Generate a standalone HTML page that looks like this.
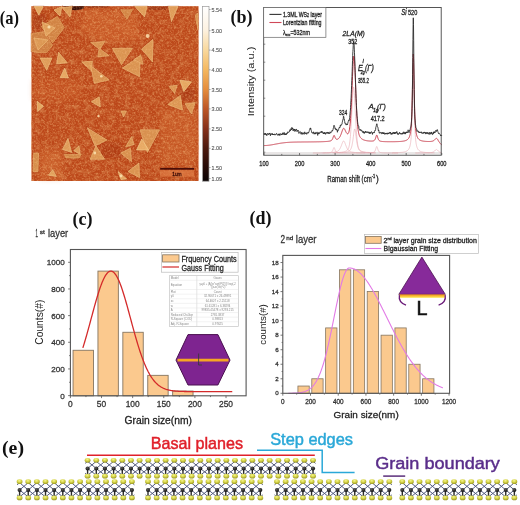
<!DOCTYPE html>
<html><head><meta charset="utf-8"><title>Figure</title>
<style>
html,body{margin:0;padding:0;background:#fff;}
body{width:520px;height:505px;overflow:hidden;}
svg{display:block;}
</style></head>
<body>
<svg width="520" height="505" viewBox="0 0 520 505">
<rect width="520" height="505" fill="#fff"/>
<defs>
<linearGradient id="cbar" x1="0" y1="0" x2="0" y2="1">
 <stop offset="0" stop-color="#ffffff"/>
 <stop offset="0.13" stop-color="#fdf2e2"/>
 <stop offset="0.25" stop-color="#f9d89c"/>
 <stop offset="0.36" stop-color="#f4b860"/>
 <stop offset="0.475" stop-color="#e48c3c"/>
 <stop offset="0.585" stop-color="#bc5626"/>
 <stop offset="0.70" stop-color="#84301a"/>
 <stop offset="0.81" stop-color="#4c1a0e"/>
 <stop offset="0.92" stop-color="#260a06"/>
 <stop offset="1" stop-color="#0a0303"/>
</linearGradient>
<linearGradient id="strip" x1="0" y1="0" x2="0" y2="1">
 <stop offset="0" stop-color="#f08a20"/>
 <stop offset="0.5" stop-color="#f8c030"/>
 <stop offset="1" stop-color="#fff070"/>
</linearGradient>
<filter id="nz" x="0" y="0" width="100%" height="100%">
 <feTurbulence type="fractalNoise" baseFrequency="0.55" numOctaves="2" seed="7" result="t"/>
 <feColorMatrix in="t" type="matrix" values="0 0 0 0 0.90  0 0 0 0 0.48  0 0 0 0 0.20  2.8 0 0 0 -1.25" result="c"/>
 <feGaussianBlur in="c" stdDeviation="0.3"/>
</filter>
<filter id="bl" x="-20%" y="-20%" width="140%" height="140%"><feGaussianBlur stdDeviation="2.5"/></filter>
<filter id="nz2" x="0" y="0" width="100%" height="100%">
 <feTurbulence type="fractalNoise" baseFrequency="0.2" numOctaves="3" seed="3" result="t"/>
 <feColorMatrix in="t" type="matrix" values="0 0 0 0 0.66  0 0 0 0 0.20  0 0 0 0 0.06  0 2.2 0 0 -0.95"/>
</filter>
<radialGradient id="sy" cx="0.45" cy="0.3" r="0.75">
 <stop offset="0" stop-color="#f6f690"/>
 <stop offset="0.45" stop-color="#d6d448"/>
 <stop offset="1" stop-color="#8c8a1c"/>
</radialGradient>
<radialGradient id="wd" cx="0.4" cy="0.35" r="0.7">
 <stop offset="0" stop-color="#5a5a5a"/>
 <stop offset="1" stop-color="#080808"/>
</radialGradient>
</defs>
<text x="-0.30" y="24.00" font-family="'Liberation Serif', 'Times New Roman', serif" font-size="17.8" fill="#111" text-anchor="start" font-weight="bold" font-style="normal" textLength="19.20" lengthAdjust="spacingAndGlyphs">(a)</text>
<rect x="31.5" y="6.2" width="167.0" height="174.8" fill="#bc481a"/>
<rect x="31.5" y="6.2" width="167.0" height="174.8" filter="url(#nz2)" opacity="0.8"/>
<path d="M85.00,10.00 L135.00,10.00 L140.00,40.00 L100.00,42.00 L80.00,30.00 Z" fill="#e07a3c" opacity="0.35" filter="url(#bl)"/>
<path d="M160.00,110.00 L197.00,110.00 L197.00,165.00 L160.00,165.00 Z" fill="#de7a3e" opacity="0.3" filter="url(#bl)"/>
<path d="M40.00,150.00 L62.00,150.00 L62.00,180.00 L40.00,180.00 Z" fill="#e68a48" opacity="0.3" filter="url(#bl)"/>
<path d="M33.00,14.00 L46.00,14.00 L46.00,30.00 L33.00,30.00 Z" fill="#9a2c10" opacity="0.45" filter="url(#bl)"/>
<path d="M100.00,142.00 L122.00,142.00 L122.00,158.00 L100.00,158.00 Z" fill="#a02e10" opacity="0.4" filter="url(#bl)"/>
<path d="M180.00,88.00 L195.00,88.00 L195.00,101.00 L180.00,101.00 Z" fill="#9a2a10" opacity="0.45" filter="url(#bl)"/>
<path d="M32.00,80.00 L80.00,80.00 L80.00,100.00 L32.00,100.00 Z" fill="#d86a30" opacity="0.25" filter="url(#bl)"/>
<path d="M63,6.2 L85,6.2 L83,9 L76,10.2 L67,9.5 Z" fill="#2a0804" opacity="0.9"/>
<path d="M85,6.2 L110,6.2 L106,7.6 L88,7.6 Z" fill="#6a1a08" opacity="0.6"/>
<path d="M147,6.2 L168,6.2 L166,10 L149,10 Z" fill="#8a2a10" opacity="0.55"/>
<path d="M34.20,6.50 L43.10,6.50 L38.90,15.10 Z" fill="none" stroke="#98300e" stroke-width="1.6" stroke-opacity="0.45"/>
<path d="M54.00,10.00 L62.00,6.50 L60.00,16.00 Z" fill="none" stroke="#98300e" stroke-width="1.6" stroke-opacity="0.45"/>
<path d="M62.00,7.50 L72.00,6.50 L70.00,17.00 Z" fill="none" stroke="#98300e" stroke-width="1.6" stroke-opacity="0.45"/>
<path d="M41.30,26.40 L57.30,16.30 L64.40,27.60 L52.60,43.00 Z" fill="none" stroke="#98300e" stroke-width="1.6" stroke-opacity="0.45"/>
<path d="M31.50,33.50 L43.70,31.70 L52.60,45.40 L46.60,52.50 L37.10,52.50 L31.50,51.30 Z" fill="none" stroke="#98300e" stroke-width="1.6" stroke-opacity="0.45"/>
<path d="M42.00,22.00 L55.00,28.00 L46.00,36.00 Z" fill="none" stroke="#98300e" stroke-width="1.6" stroke-opacity="0.45"/>
<path d="M34.00,38.00 L48.00,40.00 L38.00,50.00 Z" fill="none" stroke="#98300e" stroke-width="1.6" stroke-opacity="0.45"/>
<path d="M40.00,58.00 L52.00,58.00 L46.70,70.30 Z" fill="none" stroke="#98300e" stroke-width="1.6" stroke-opacity="0.45"/>
<path d="M58.50,52.20 L56.70,63.80 L67.40,62.90 Z" fill="none" stroke="#98300e" stroke-width="1.6" stroke-opacity="0.45"/>
<path d="M60.20,77.50 L64.70,68.20 L68.50,78.00 Z" fill="none" stroke="#98300e" stroke-width="1.6" stroke-opacity="0.45"/>
<path d="M90.60,42.40 L104.90,41.50 L100.00,49.00 L109.30,55.80 L97.70,56.70 L99.00,49.00 Z" fill="none" stroke="#98300e" stroke-width="1.6" stroke-opacity="0.45"/>
<path d="M81.70,62.00 L92.40,61.10 L91.50,71.00 Z" fill="none" stroke="#98300e" stroke-width="1.6" stroke-opacity="0.45"/>
<path d="M90.60,65.60 L109.30,79.90 L94.20,83.40 Z" fill="none" stroke="#98300e" stroke-width="1.6" stroke-opacity="0.45"/>
<path d="M134.90,6.50 L147.10,6.50 L144.50,16.90 Z" fill="none" stroke="#98300e" stroke-width="1.6" stroke-opacity="0.45"/>
<path d="M120.60,9.80 L132.50,9.80 L127.00,19.30 Z" fill="none" stroke="#98300e" stroke-width="1.6" stroke-opacity="0.45"/>
<path d="M168.50,6.50 L178.00,6.50 L171.50,21.60 Z" fill="none" stroke="#98300e" stroke-width="1.6" stroke-opacity="0.45"/>
<path d="M112.30,48.30 L132.50,48.30 L121.50,64.80 Z" fill="none" stroke="#98300e" stroke-width="1.6" stroke-opacity="0.45"/>
<path d="M153.00,39.40 L141.50,49.00 L152.50,62.00 Z" fill="none" stroke="#98300e" stroke-width="1.6" stroke-opacity="0.45"/>
<path d="M122.30,68.00 L140.30,56.00 L139.50,76.70 Z" fill="none" stroke="#98300e" stroke-width="1.6" stroke-opacity="0.45"/>
<path d="M133.70,59.60 L140.80,54.90 L143.20,64.40 Z" fill="none" stroke="#98300e" stroke-width="1.6" stroke-opacity="0.45"/>
<path d="M179.90,80.00 L191.50,81.90 L183.80,91.50 Z" fill="none" stroke="#98300e" stroke-width="1.6" stroke-opacity="0.45"/>
<path d="M169.00,86.40 L177.30,85.10 L174.70,93.50 Z" fill="none" stroke="#98300e" stroke-width="1.6" stroke-opacity="0.45"/>
<path d="M167.70,104.40 L180.50,95.40 L182.50,110.20 Z" fill="none" stroke="#98300e" stroke-width="1.6" stroke-opacity="0.45"/>
<path d="M185.00,103.80 L195.30,102.50 L191.50,114.00 Z" fill="none" stroke="#98300e" stroke-width="1.6" stroke-opacity="0.45"/>
<path d="M37.10,101.20 L43.50,106.30 L37.70,111.50 Z" fill="none" stroke="#98300e" stroke-width="1.6" stroke-opacity="0.45"/>
<path d="M91.40,101.80 L99.20,96.70 L100.40,107.00 Z" fill="none" stroke="#98300e" stroke-width="1.6" stroke-opacity="0.45"/>
<path d="M87.50,128.00 L107.00,140.00 L95.00,146.00 Z" fill="none" stroke="#98300e" stroke-width="1.6" stroke-opacity="0.45"/>
<path d="M90.00,159.30 L96.00,145.80 L104.60,159.30 Z" fill="none" stroke="#98300e" stroke-width="1.6" stroke-opacity="0.45"/>
<path d="M62.50,149.40 L68.00,138.40 L71.70,152.50 Z" fill="none" stroke="#98300e" stroke-width="1.6" stroke-opacity="0.45"/>
<path d="M73.60,150.70 L79.00,145.80 L80.30,154.40 Z" fill="none" stroke="#98300e" stroke-width="1.6" stroke-opacity="0.45"/>
<path d="M64.40,154.40 L81.50,154.40 L79.00,158.00 L66.00,158.00 Z" fill="none" stroke="#98300e" stroke-width="1.6" stroke-opacity="0.45"/>
<path d="M33.70,153.00 L38.60,153.00 L38.00,171.50 L33.00,171.50 Z" fill="none" stroke="#98300e" stroke-width="1.6" stroke-opacity="0.45"/>
<path d="M48.40,175.20 L52.70,169.70 L56.40,176.40 Z" fill="none" stroke="#98300e" stroke-width="1.6" stroke-opacity="0.45"/>
<path d="M125.50,147.00 L131.60,136.60 L134.10,144.50 Z" fill="none" stroke="#98300e" stroke-width="1.6" stroke-opacity="0.45"/>
<path d="M120.60,153.10 L130.40,148.20 L131.60,161.70 Z" fill="none" stroke="#98300e" stroke-width="1.6" stroke-opacity="0.45"/>
<path d="M140.00,129.80 L159.60,129.80 L147.40,152.50 Z" fill="none" stroke="#98300e" stroke-width="1.6" stroke-opacity="0.45"/>
<path d="M136.50,150.00 L141.80,139.00 L148.60,150.00 Z" fill="none" stroke="#98300e" stroke-width="1.6" stroke-opacity="0.45"/>
<path d="M118.10,171.50 L126.70,178.90 L121.00,179.50 Z" fill="none" stroke="#98300e" stroke-width="1.6" stroke-opacity="0.45"/>
<path d="M128.00,171.50 L139.00,163.00 L139.60,177.70 Z" fill="none" stroke="#98300e" stroke-width="1.6" stroke-opacity="0.45"/>
<path d="M121.00,111.00 L126.50,111.00 L123.60,117.00 Z" fill="none" stroke="#98300e" stroke-width="1.6" stroke-opacity="0.45"/>
<path d="M195.20,15.00 L198.00,13.00 L198.00,30.00 Z" fill="none" stroke="#98300e" stroke-width="1.6" stroke-opacity="0.45"/>
<path d="M34.20,6.50 L43.10,6.50 L38.90,15.10 Z" fill="rgb(230, 172, 101)" fill-opacity="0.92" stroke="rgb(243, 202, 137)" stroke-width="0.7"/>
<path d="M54.00,10.00 L62.00,6.50 L60.00,16.00 Z" fill="rgb(223, 160, 91)" fill-opacity="0.92" stroke="rgb(239, 190, 124)" stroke-width="0.7"/>
<path d="M62.00,7.50 L72.00,6.50 L70.00,17.00 Z" fill="rgb(223, 160, 91)" fill-opacity="0.92" stroke="rgb(239, 190, 124)" stroke-width="0.7"/>
<path d="M41.30,26.40 L57.30,16.30 L64.40,27.60 L52.60,43.00 Z" fill="rgb(210, 137, 72)" fill-opacity="0.92" stroke="rgb(230, 166, 99)" stroke-width="0.7"/>
<path d="M31.50,33.50 L43.70,31.70 L52.60,45.40 L46.60,52.50 L37.10,52.50 L31.50,51.30 Z" fill="rgb(208, 134, 70)" fill-opacity="0.92" stroke="rgb(229, 163, 96)" stroke-width="0.7"/>
<path d="M42.00,22.00 L55.00,28.00 L46.00,36.00 Z" fill="rgb(223, 160, 91)" fill-opacity="0.92" stroke="rgb(239, 190, 124)" stroke-width="0.7"/>
<path d="M34.00,38.00 L48.00,40.00 L38.00,50.00 Z" fill="rgb(220, 154, 86)" fill-opacity="0.92" stroke="rgb(237, 184, 118)" stroke-width="0.7"/>
<path d="M40.00,58.00 L52.00,58.00 L46.70,70.30 Z" fill="rgb(225, 163, 94)" fill-opacity="0.92" stroke="rgb(240, 193, 128)" stroke-width="0.7"/>
<path d="M58.50,52.20 L56.70,63.80 L67.40,62.90 Z" fill="rgb(225, 163, 94)" fill-opacity="0.92" stroke="rgb(240, 193, 128)" stroke-width="0.7"/>
<path d="M60.20,77.50 L64.70,68.20 L68.50,78.00 Z" fill="rgb(232, 175, 103)" fill-opacity="0.92" stroke="rgb(244, 205, 140)" stroke-width="0.7"/>
<path d="M90.60,42.40 L104.90,41.50 L100.00,49.00 L109.30,55.80 L97.70,56.70 L99.00,49.00 Z" fill="rgb(218, 151, 84)" fill-opacity="0.92" stroke="rgb(236, 181, 115)" stroke-width="0.7"/>
<path d="M81.70,62.00 L92.40,61.10 L91.50,71.00 Z" fill="rgb(222, 157, 89)" fill-opacity="0.92" stroke="rgb(238, 187, 121)" stroke-width="0.7"/>
<path d="M90.60,65.60 L109.30,79.90 L94.20,83.40 Z" fill="rgb(218, 151, 84)" fill-opacity="0.92" stroke="rgb(236, 181, 115)" stroke-width="0.7"/>
<path d="M134.90,6.50 L147.10,6.50 L144.50,16.90 Z" fill="rgb(227, 166, 96)" fill-opacity="0.92" stroke="rgb(241, 196, 131)" stroke-width="0.7"/>
<path d="M120.60,9.80 L132.50,9.80 L127.00,19.30 Z" fill="rgb(210, 137, 72)" fill-opacity="0.92" stroke="rgb(230, 166, 99)" stroke-width="0.7"/>
<path d="M168.50,6.50 L178.00,6.50 L171.50,21.60 Z" fill="rgb(225, 163, 94)" fill-opacity="0.92" stroke="rgb(240, 193, 128)" stroke-width="0.7"/>
<path d="M112.30,48.30 L132.50,48.30 L121.50,64.80 Z" fill="rgb(220, 154, 86)" fill-opacity="0.92" stroke="rgb(237, 184, 118)" stroke-width="0.7"/>
<path d="M153.00,39.40 L141.50,49.00 L152.50,62.00 Z" fill="rgb(222, 157, 89)" fill-opacity="0.92" stroke="rgb(238, 187, 121)" stroke-width="0.7"/>
<path d="M122.30,68.00 L140.30,56.00 L139.50,76.70 Z" fill="rgb(220, 154, 86)" fill-opacity="0.92" stroke="rgb(237, 184, 118)" stroke-width="0.7"/>
<path d="M133.70,59.60 L140.80,54.90 L143.20,64.40 Z" fill="rgb(217, 149, 82)" fill-opacity="0.92" stroke="rgb(235, 178, 112)" stroke-width="0.7"/>
<path d="M179.90,80.00 L191.50,81.90 L183.80,91.50 Z" fill="rgb(232, 175, 103)" fill-opacity="0.92" stroke="rgb(244, 205, 140)" stroke-width="0.7"/>
<path d="M169.00,86.40 L177.30,85.10 L174.70,93.50 Z" fill="rgb(220, 154, 86)" fill-opacity="0.92" stroke="rgb(237, 184, 118)" stroke-width="0.7"/>
<path d="M167.70,104.40 L180.50,95.40 L182.50,110.20 Z" fill="rgb(222, 157, 89)" fill-opacity="0.92" stroke="rgb(238, 187, 121)" stroke-width="0.7"/>
<path d="M185.00,103.80 L195.30,102.50 L191.50,114.00 Z" fill="rgb(220, 154, 86)" fill-opacity="0.92" stroke="rgb(237, 184, 118)" stroke-width="0.7"/>
<path d="M37.10,101.20 L43.50,106.30 L37.70,111.50 Z" fill="rgb(230, 172, 101)" fill-opacity="0.92" stroke="rgb(243, 202, 137)" stroke-width="0.7"/>
<path d="M91.40,101.80 L99.20,96.70 L100.40,107.00 Z" fill="rgb(225, 163, 94)" fill-opacity="0.92" stroke="rgb(240, 193, 128)" stroke-width="0.7"/>
<path d="M87.50,128.00 L107.00,140.00 L95.00,146.00 Z" fill="rgb(220, 154, 86)" fill-opacity="0.92" stroke="rgb(237, 184, 118)" stroke-width="0.7"/>
<path d="M90.00,159.30 L96.00,145.80 L104.60,159.30 Z" fill="rgb(222, 157, 89)" fill-opacity="0.92" stroke="rgb(238, 187, 121)" stroke-width="0.7"/>
<path d="M62.50,149.40 L68.00,138.40 L71.70,152.50 Z" fill="rgb(225, 163, 94)" fill-opacity="0.92" stroke="rgb(240, 193, 128)" stroke-width="0.7"/>
<path d="M73.60,150.70 L79.00,145.80 L80.30,154.40 Z" fill="rgb(223, 160, 91)" fill-opacity="0.92" stroke="rgb(239, 190, 124)" stroke-width="0.7"/>
<path d="M64.40,154.40 L81.50,154.40 L79.00,158.00 L66.00,158.00 Z" fill="rgb(211, 140, 74)" fill-opacity="0.92" stroke="rgb(231, 169, 102)" stroke-width="0.7"/>
<path d="M33.70,153.00 L38.60,153.00 L38.00,171.50 L33.00,171.50 Z" fill="rgb(215, 146, 79)" fill-opacity="0.92" stroke="rgb(233, 175, 108)" stroke-width="0.7"/>
<path d="M48.40,175.20 L52.70,169.70 L56.40,176.40 Z" fill="rgb(227, 166, 96)" fill-opacity="0.92" stroke="rgb(241, 196, 131)" stroke-width="0.7"/>
<path d="M125.50,147.00 L131.60,136.60 L134.10,144.50 Z" fill="rgb(217, 149, 82)" fill-opacity="0.92" stroke="rgb(235, 178, 112)" stroke-width="0.7"/>
<path d="M120.60,153.10 L130.40,148.20 L131.60,161.70 Z" fill="rgb(218, 151, 84)" fill-opacity="0.92" stroke="rgb(236, 181, 115)" stroke-width="0.7"/>
<path d="M140.00,129.80 L159.60,129.80 L147.40,152.50 Z" fill="rgb(218, 151, 84)" fill-opacity="0.92" stroke="rgb(236, 181, 115)" stroke-width="0.7"/>
<path d="M136.50,150.00 L141.80,139.00 L148.60,150.00 Z" fill="rgb(234, 178, 106)" fill-opacity="0.92" stroke="rgb(246, 208, 144)" stroke-width="0.7"/>
<path d="M118.10,171.50 L126.70,178.90 L121.00,179.50 Z" fill="rgb(230, 172, 101)" fill-opacity="0.92" stroke="rgb(243, 202, 137)" stroke-width="0.7"/>
<path d="M128.00,171.50 L139.00,163.00 L139.60,177.70 Z" fill="rgb(220, 154, 86)" fill-opacity="0.92" stroke="rgb(237, 184, 118)" stroke-width="0.7"/>
<path d="M121.00,111.00 L126.50,111.00 L123.60,117.00 Z" fill="rgb(220, 154, 86)" fill-opacity="0.92" stroke="rgb(237, 184, 118)" stroke-width="0.7"/>
<path d="M195.20,15.00 L198.00,13.00 L198.00,30.00 Z" fill="rgb(217, 149, 82)" fill-opacity="0.92" stroke="rgb(235, 178, 112)" stroke-width="0.7"/>
<rect x="31.5" y="6.2" width="167.0" height="174.8" filter="url(#nz)" opacity="0.45"/>
<circle cx="49" cy="27" r="1.6" fill="#fbe2b0" opacity="0.85"/>
<circle cx="147.7" cy="35.9" r="2.0" fill="#fbe2b0" opacity="0.85"/>
<circle cx="98.5" cy="116" r="1.2" fill="#fbe2b0" opacity="0.85"/>
<circle cx="94.8" cy="153" r="1.4" fill="#fbe2b0" opacity="0.85"/>
<circle cx="101.3" cy="76.3" r="1.3" fill="#fbe2b0" opacity="0.85"/>
<circle cx="121" cy="176" r="1.4" fill="#fbe2b0" opacity="0.85"/>
<rect x="160.2" y="170.2" width="34" height="6.5" fill="#e07c44" opacity="0.7"/>
<rect x="160.2" y="167.9" width="33.8" height="1.8" fill="#4a0e08"/>
<text x="172.20" y="176.40" font-family="'Liberation Sans', Arial, sans-serif" font-size="5.6" fill="#3a0a06" text-anchor="start" font-weight="normal" font-style="normal" textLength="9.50" lengthAdjust="spacingAndGlyphs" stroke="#3a0a06" stroke-width="0.28">1um</text>
<rect x="202.6" y="6.6" width="6.4" height="174.6" fill="url(#cbar)" stroke="#9a9a9a" stroke-width="0.7"/>
<line x1="209" y1="9.5" x2="210.6" y2="9.5" stroke="#777" stroke-width="0.6"/>
<text x="211.60" y="11.60" font-family="'Liberation Sans', Arial, sans-serif" font-size="6.0" fill="#555" text-anchor="start" font-weight="normal" font-style="normal" textLength="10.50" lengthAdjust="spacingAndGlyphs" stroke="#555" stroke-width="0.12">5.54</text>
<line x1="209" y1="30.7" x2="210.6" y2="30.7" stroke="#777" stroke-width="0.6"/>
<text x="211.60" y="32.80" font-family="'Liberation Sans', Arial, sans-serif" font-size="6.0" fill="#555" text-anchor="start" font-weight="normal" font-style="normal" textLength="10.50" lengthAdjust="spacingAndGlyphs" stroke="#555" stroke-width="0.12">5.00</text>
<line x1="209" y1="50.1" x2="210.6" y2="50.1" stroke="#777" stroke-width="0.6"/>
<text x="211.60" y="52.20" font-family="'Liberation Sans', Arial, sans-serif" font-size="6.0" fill="#555" text-anchor="start" font-weight="normal" font-style="normal" textLength="10.50" lengthAdjust="spacingAndGlyphs" stroke="#555" stroke-width="0.12">4.50</text>
<line x1="209" y1="69.8" x2="210.6" y2="69.8" stroke="#777" stroke-width="0.6"/>
<text x="211.60" y="71.90" font-family="'Liberation Sans', Arial, sans-serif" font-size="6.0" fill="#555" text-anchor="start" font-weight="normal" font-style="normal" textLength="10.50" lengthAdjust="spacingAndGlyphs" stroke="#555" stroke-width="0.12">4.00</text>
<line x1="209" y1="89.5" x2="210.6" y2="89.5" stroke="#777" stroke-width="0.6"/>
<text x="211.60" y="91.60" font-family="'Liberation Sans', Arial, sans-serif" font-size="6.0" fill="#555" text-anchor="start" font-weight="normal" font-style="normal" textLength="10.50" lengthAdjust="spacingAndGlyphs" stroke="#555" stroke-width="0.12">3.50</text>
<line x1="209" y1="108.9" x2="210.6" y2="108.9" stroke="#777" stroke-width="0.6"/>
<text x="211.60" y="111.00" font-family="'Liberation Sans', Arial, sans-serif" font-size="6.0" fill="#555" text-anchor="start" font-weight="normal" font-style="normal" textLength="10.50" lengthAdjust="spacingAndGlyphs" stroke="#555" stroke-width="0.12">3.00</text>
<line x1="209" y1="128.9" x2="210.6" y2="128.9" stroke="#777" stroke-width="0.6"/>
<text x="211.60" y="131.00" font-family="'Liberation Sans', Arial, sans-serif" font-size="6.0" fill="#555" text-anchor="start" font-weight="normal" font-style="normal" textLength="10.50" lengthAdjust="spacingAndGlyphs" stroke="#555" stroke-width="0.12">2.50</text>
<line x1="209" y1="148.3" x2="210.6" y2="148.3" stroke="#777" stroke-width="0.6"/>
<text x="211.60" y="150.40" font-family="'Liberation Sans', Arial, sans-serif" font-size="6.0" fill="#555" text-anchor="start" font-weight="normal" font-style="normal" textLength="10.50" lengthAdjust="spacingAndGlyphs" stroke="#555" stroke-width="0.12">2.00</text>
<line x1="209" y1="167.5" x2="210.6" y2="167.5" stroke="#777" stroke-width="0.6"/>
<text x="211.60" y="169.60" font-family="'Liberation Sans', Arial, sans-serif" font-size="6.0" fill="#555" text-anchor="start" font-weight="normal" font-style="normal" textLength="10.50" lengthAdjust="spacingAndGlyphs" stroke="#555" stroke-width="0.12">1.50</text>
<line x1="209" y1="178.5" x2="210.6" y2="178.5" stroke="#777" stroke-width="0.6"/>
<text x="211.60" y="180.60" font-family="'Liberation Sans', Arial, sans-serif" font-size="6.0" fill="#555" text-anchor="start" font-weight="normal" font-style="normal" textLength="10.50" lengthAdjust="spacingAndGlyphs" stroke="#555" stroke-width="0.12">1.09</text>
<text x="230.60" y="23.20" font-family="'Liberation Serif', 'Times New Roman', serif" font-size="18" fill="#111" text-anchor="start" font-weight="bold" font-style="normal">(b)</text>
<line x1="263.7" y1="153.0" x2="441.2" y2="153.0" stroke="#c8c0c0" stroke-width="0.8"/>
<path d="M312.88,152.99 L313.06,152.99 L313.24,152.99 L313.41,152.99 L313.59,152.98 L313.77,152.98 L313.95,152.98 L314.13,152.98 L314.30,152.98 L314.48,152.98 L314.66,152.98 L314.84,152.98 L315.01,152.98 L315.19,152.98 L315.37,152.98 L315.55,152.98 L315.73,152.98 L315.90,152.98 L316.08,152.98 L316.26,152.98 L316.44,152.98 L316.61,152.98 L316.79,152.98 L316.97,152.98 L317.15,152.98 L317.32,152.98 L317.50,152.98 L317.68,152.98 L317.86,152.98 L318.04,152.98 L318.21,152.97 L318.39,152.97 L318.57,152.97 L318.75,152.97 L318.92,152.97 L319.10,152.97 L319.28,152.97 L319.46,152.97 L319.64,152.97 L319.81,152.97 L319.99,152.97 L320.17,152.97 L320.35,152.97 L320.52,152.97 L320.70,152.96 L320.88,152.96 L321.06,152.96 L321.24,152.96 L321.41,152.96 L321.59,152.96 L321.77,152.96 L321.95,152.96 L322.12,152.96 L322.30,152.95 L322.48,152.95 L322.66,152.95 L322.84,152.95 L323.01,152.95 L323.19,152.95 L323.37,152.94 L323.55,152.94 L323.72,152.94 L323.90,152.94 L324.08,152.94 L324.26,152.93 L324.44,152.93 L324.61,152.93 L324.79,152.93 L324.97,152.92 L325.15,152.92 L325.32,152.92 L325.50,152.91 L325.68,152.91 L325.86,152.91 L326.03,152.90 L326.21,152.90 L326.39,152.89 L326.57,152.89 L326.75,152.88 L326.92,152.88 L327.10,152.87 L327.28,152.86 L327.46,152.86 L327.63,152.85 L327.81,152.84 L327.99,152.83 L328.17,152.82 L328.35,152.81 L328.52,152.80 L328.70,152.79 L328.88,152.77 L329.06,152.76 L329.23,152.74 L329.41,152.72 L329.59,152.70 L329.77,152.68 L329.95,152.65 L330.12,152.62 L330.30,152.58 L330.48,152.55 L330.66,152.50 L330.83,152.44 L331.01,152.38 L331.19,152.30 L331.37,152.21 L331.55,152.09 L331.72,151.95 L331.90,151.77 L332.08,151.56 L332.26,151.31 L332.43,151.01 L332.61,150.66 L332.79,150.25 L332.97,149.80 L333.14,149.30 L333.32,148.79 L333.50,148.30 L333.68,147.89 L333.86,147.60 L334.03,147.50 L334.21,147.60 L334.39,147.89 L334.57,148.30 L334.74,148.79 L334.92,149.30 L335.10,149.80 L335.28,150.25 L335.46,150.66 L335.63,151.01 L335.81,151.31 L335.99,151.56 L336.17,151.77 L336.34,151.95 L336.52,152.09 L336.70,152.21 L336.88,152.30 L337.06,152.38 L337.23,152.44 L337.41,152.50 L337.59,152.55 L337.77,152.58 L337.94,152.62 L338.12,152.65 L338.30,152.68 L338.48,152.70 L338.65,152.72 L338.83,152.74 L339.01,152.76 L339.19,152.77 L339.37,152.79 L339.54,152.80 L339.72,152.81 L339.90,152.82 L340.08,152.83 L340.25,152.84 L340.43,152.85 L340.61,152.86 L340.79,152.86 L340.97,152.87 L341.14,152.88 L341.32,152.88 L341.50,152.89 L341.68,152.89 L341.85,152.90 L342.03,152.90 L342.21,152.91 L342.39,152.91 L342.57,152.91 L342.74,152.92 L342.92,152.92 L343.10,152.92 L343.28,152.93 L343.45,152.93 L343.63,152.93 L343.81,152.93 L343.99,152.94 L344.17,152.94 L344.34,152.94 L344.52,152.94 L344.70,152.94 L344.88,152.95 L345.05,152.95 L345.23,152.95 L345.41,152.95 L345.59,152.95 L345.76,152.95 L345.94,152.96 L346.12,152.96 L346.30,152.96 L346.48,152.96 L346.65,152.96 L346.83,152.96 L347.01,152.96 L347.19,152.96 L347.36,152.96 L347.54,152.97 L347.72,152.97 L347.90,152.97 L348.08,152.97 L348.25,152.97 L348.43,152.97 L348.61,152.97 L348.79,152.97 L348.96,152.97 L349.14,152.97 L349.32,152.97 L349.50,152.97 L349.68,152.97 L349.85,152.97 L350.03,152.98 L350.21,152.98 L350.39,152.98 L350.56,152.98 L350.74,152.98 L350.92,152.98 L351.10,152.98 L351.28,152.98 L351.45,152.98 L351.63,152.98 L351.81,152.98 L351.99,152.98 L352.16,152.98 L352.34,152.98 L352.52,152.98 L352.70,152.98 L352.88,152.98 L353.05,152.98 L353.23,152.98 L353.41,152.98 L353.59,152.98 L353.76,152.98 L353.94,152.98 L354.12,152.98 L354.30,152.98 L354.47,152.98 L354.65,152.99 L354.83,152.99 L355.01,152.99 L355.19,152.99" fill="none" stroke="#e8a8b0" stroke-width="0.6"/>
<path d="M322.48,152.84 L322.66,152.84 L322.84,152.83 L323.01,152.83 L323.19,152.83 L323.37,152.83 L323.55,152.82 L323.72,152.82 L323.90,152.82 L324.08,152.81 L324.26,152.81 L324.44,152.81 L324.61,152.80 L324.79,152.80 L324.97,152.80 L325.15,152.79 L325.32,152.79 L325.50,152.78 L325.68,152.78 L325.86,152.78 L326.03,152.77 L326.21,152.77 L326.39,152.76 L326.57,152.76 L326.75,152.75 L326.92,152.75 L327.10,152.74 L327.28,152.74 L327.46,152.73 L327.63,152.72 L327.81,152.72 L327.99,152.71 L328.17,152.71 L328.35,152.70 L328.52,152.69 L328.70,152.68 L328.88,152.68 L329.06,152.67 L329.23,152.66 L329.41,152.65 L329.59,152.65 L329.77,152.64 L329.95,152.63 L330.12,152.62 L330.30,152.61 L330.48,152.60 L330.66,152.59 L330.83,152.58 L331.01,152.57 L331.19,152.55 L331.37,152.54 L331.55,152.53 L331.72,152.51 L331.90,152.50 L332.08,152.49 L332.26,152.47 L332.43,152.45 L332.61,152.44 L332.79,152.42 L332.97,152.40 L333.14,152.38 L333.32,152.36 L333.50,152.34 L333.68,152.32 L333.86,152.30 L334.03,152.27 L334.21,152.25 L334.39,152.22 L334.57,152.19 L334.74,152.16 L334.92,152.13 L335.10,152.09 L335.28,152.06 L335.46,152.02 L335.63,151.98 L335.81,151.93 L335.99,151.89 L336.17,151.83 L336.34,151.78 L336.52,151.72 L336.70,151.65 L336.88,151.58 L337.06,151.51 L337.23,151.43 L337.41,151.34 L337.59,151.24 L337.77,151.13 L337.94,151.01 L338.12,150.88 L338.30,150.74 L338.48,150.59 L338.65,150.43 L338.83,150.24 L339.01,150.05 L339.19,149.83 L339.37,149.60 L339.54,149.35 L339.72,149.08 L339.90,148.79 L340.08,148.47 L340.25,148.14 L340.43,147.78 L340.61,147.40 L340.79,147.00 L340.97,146.58 L341.14,146.14 L341.32,145.68 L341.50,145.21 L341.68,144.73 L341.85,144.24 L342.03,143.75 L342.21,143.28 L342.39,142.82 L342.57,142.39 L342.74,142.00 L342.92,141.66 L343.10,141.38 L343.28,141.17 L343.45,141.04 L343.63,141.00 L343.81,141.04 L343.99,141.17 L344.17,141.38 L344.34,141.66 L344.52,142.00 L344.70,142.39 L344.88,142.82 L345.05,143.28 L345.23,143.75 L345.41,144.24 L345.59,144.73 L345.76,145.21 L345.94,145.68 L346.12,146.14 L346.30,146.58 L346.48,147.00 L346.65,147.40 L346.83,147.78 L347.01,148.14 L347.19,148.47 L347.36,148.79 L347.54,149.08 L347.72,149.35 L347.90,149.60 L348.08,149.83 L348.25,150.05 L348.43,150.24 L348.61,150.43 L348.79,150.59 L348.96,150.74 L349.14,150.88 L349.32,151.01 L349.50,151.13 L349.68,151.24 L349.85,151.34 L350.03,151.43 L350.21,151.51 L350.39,151.58 L350.56,151.65 L350.74,151.72 L350.92,151.78 L351.10,151.83 L351.28,151.89 L351.45,151.93 L351.63,151.98 L351.81,152.02 L351.99,152.06 L352.16,152.09 L352.34,152.13 L352.52,152.16 L352.70,152.19 L352.88,152.22 L353.05,152.25 L353.23,152.27 L353.41,152.30 L353.59,152.32 L353.76,152.34 L353.94,152.36 L354.12,152.38 L354.30,152.40 L354.47,152.42 L354.65,152.44 L354.83,152.45 L355.01,152.47 L355.19,152.49 L355.36,152.50 L355.54,152.51 L355.72,152.53 L355.90,152.54 L356.07,152.55 L356.25,152.57 L356.43,152.58 L356.61,152.59 L356.79,152.60 L356.96,152.61 L357.14,152.62 L357.32,152.63 L357.50,152.64 L357.67,152.65 L357.85,152.65 L358.03,152.66 L358.21,152.67 L358.39,152.68 L358.56,152.68 L358.74,152.69 L358.92,152.70 L359.10,152.71 L359.27,152.71 L359.45,152.72 L359.63,152.72 L359.81,152.73 L359.99,152.74 L360.16,152.74 L360.34,152.75 L360.52,152.75 L360.70,152.76 L360.87,152.76 L361.05,152.77 L361.23,152.77 L361.41,152.78 L361.58,152.78 L361.76,152.78 L361.94,152.79 L362.12,152.79 L362.30,152.80 L362.47,152.80 L362.65,152.80 L362.83,152.81 L363.01,152.81 L363.18,152.81 L363.36,152.82 L363.54,152.82 L363.72,152.82 L363.90,152.83 L364.07,152.83 L364.25,152.83 L364.43,152.83 L364.61,152.84 L364.78,152.84" fill="none" stroke="#e8a8b0" stroke-width="0.6"/>
<path d="M332.43,152.73 L332.61,152.73 L332.79,152.73 L332.97,152.72 L333.14,152.72 L333.32,152.71 L333.50,152.71 L333.68,152.70 L333.86,152.70 L334.03,152.69 L334.21,152.68 L334.39,152.68 L334.57,152.67 L334.74,152.67 L334.92,152.66 L335.10,152.65 L335.28,152.65 L335.46,152.64 L335.63,152.63 L335.81,152.63 L335.99,152.62 L336.17,152.61 L336.34,152.60 L336.52,152.59 L336.70,152.59 L336.88,152.58 L337.06,152.57 L337.23,152.56 L337.41,152.55 L337.59,152.54 L337.77,152.53 L337.94,152.52 L338.12,152.51 L338.30,152.50 L338.48,152.48 L338.65,152.47 L338.83,152.46 L339.01,152.45 L339.19,152.43 L339.37,152.42 L339.54,152.40 L339.72,152.39 L339.90,152.37 L340.08,152.36 L340.25,152.34 L340.43,152.32 L340.61,152.31 L340.79,152.29 L340.97,152.27 L341.14,152.25 L341.32,152.22 L341.50,152.20 L341.68,152.18 L341.85,152.16 L342.03,152.13 L342.21,152.10 L342.39,152.08 L342.57,152.05 L342.74,152.02 L342.92,151.98 L343.10,151.95 L343.28,151.92 L343.45,151.88 L343.63,151.84 L343.81,151.80 L343.99,151.76 L344.17,151.71 L344.34,151.67 L344.52,151.61 L344.70,151.56 L344.88,151.51 L345.05,151.45 L345.23,151.38 L345.41,151.32 L345.59,151.24 L345.76,151.17 L345.94,151.09 L346.12,151.00 L346.30,150.90 L346.48,150.80 L346.65,150.69 L346.83,150.57 L347.01,150.43 L347.19,150.28 L347.36,150.11 L347.54,149.92 L347.72,149.71 L347.90,149.46 L348.08,149.17 L348.25,148.84 L348.43,148.45 L348.61,147.99 L348.79,147.46 L348.96,146.83 L349.14,146.10 L349.32,145.24 L349.50,144.25 L349.68,143.09 L349.85,141.76 L350.03,140.24 L350.21,138.50 L350.39,136.55 L350.56,134.36 L350.74,131.94 L350.92,129.29 L351.10,126.40 L351.28,123.30 L351.45,120.00 L351.63,116.53 L351.81,112.95 L351.99,109.29 L352.16,105.62 L352.34,102.02 L352.52,98.58 L352.70,95.39 L352.88,92.57 L353.05,90.23 L353.23,88.47 L353.41,87.37 L353.59,87.00 L353.76,87.37 L353.94,88.47 L354.12,90.23 L354.30,92.57 L354.47,95.39 L354.65,98.58 L354.83,102.02 L355.01,105.62 L355.19,109.29 L355.36,112.95 L355.54,116.53 L355.72,120.00 L355.90,123.30 L356.07,126.40 L356.25,129.29 L356.43,131.94 L356.61,134.36 L356.79,136.55 L356.96,138.50 L357.14,140.24 L357.32,141.76 L357.50,143.09 L357.67,144.25 L357.85,145.24 L358.03,146.10 L358.21,146.83 L358.39,147.46 L358.56,147.99 L358.74,148.45 L358.92,148.84 L359.10,149.17 L359.27,149.46 L359.45,149.71 L359.63,149.92 L359.81,150.11 L359.99,150.28 L360.16,150.43 L360.34,150.57 L360.52,150.69 L360.70,150.80 L360.87,150.90 L361.05,151.00 L361.23,151.09 L361.41,151.17 L361.58,151.24 L361.76,151.32 L361.94,151.38 L362.12,151.45 L362.30,151.51 L362.47,151.56 L362.65,151.61 L362.83,151.67 L363.01,151.71 L363.18,151.76 L363.36,151.80 L363.54,151.84 L363.72,151.88 L363.90,151.92 L364.07,151.95 L364.25,151.98 L364.43,152.02 L364.61,152.05 L364.78,152.08 L364.96,152.10 L365.14,152.13 L365.32,152.16 L365.50,152.18 L365.67,152.20 L365.85,152.22 L366.03,152.25 L366.21,152.27 L366.38,152.29 L366.56,152.31 L366.74,152.32 L366.92,152.34 L367.10,152.36 L367.27,152.37 L367.45,152.39 L367.63,152.40 L367.81,152.42 L367.98,152.43 L368.16,152.45 L368.34,152.46 L368.52,152.47 L368.69,152.48 L368.87,152.50 L369.05,152.51 L369.23,152.52 L369.41,152.53 L369.58,152.54 L369.76,152.55 L369.94,152.56 L370.12,152.57 L370.29,152.58 L370.47,152.59 L370.65,152.59 L370.83,152.60 L371.01,152.61 L371.18,152.62 L371.36,152.63 L371.54,152.63 L371.72,152.64 L371.89,152.65 L372.07,152.65 L372.25,152.66 L372.43,152.67 L372.61,152.67 L372.78,152.68 L372.96,152.68 L373.14,152.69 L373.32,152.70 L373.49,152.70 L373.67,152.71 L373.85,152.71 L374.03,152.72 L374.20,152.72 L374.38,152.73 L374.56,152.73 L374.74,152.73" fill="none" stroke="#e8a8b0" stroke-width="0.6"/>
<path d="M333.50,152.85 L333.68,152.85 L333.86,152.84 L334.03,152.84 L334.21,152.84 L334.39,152.84 L334.57,152.83 L334.74,152.83 L334.92,152.83 L335.10,152.82 L335.28,152.82 L335.46,152.82 L335.63,152.81 L335.81,152.81 L335.99,152.81 L336.17,152.80 L336.34,152.80 L336.52,152.79 L336.70,152.79 L336.88,152.79 L337.06,152.78 L337.23,152.78 L337.41,152.77 L337.59,152.77 L337.77,152.76 L337.94,152.76 L338.12,152.75 L338.30,152.75 L338.48,152.74 L338.65,152.74 L338.83,152.73 L339.01,152.73 L339.19,152.72 L339.37,152.71 L339.54,152.71 L339.72,152.70 L339.90,152.69 L340.08,152.68 L340.25,152.68 L340.43,152.67 L340.61,152.66 L340.79,152.65 L340.97,152.64 L341.14,152.63 L341.32,152.62 L341.50,152.61 L341.68,152.60 L341.85,152.59 L342.03,152.58 L342.21,152.57 L342.39,152.56 L342.57,152.55 L342.74,152.53 L342.92,152.52 L343.10,152.50 L343.28,152.49 L343.45,152.47 L343.63,152.46 L343.81,152.44 L343.99,152.42 L344.17,152.40 L344.34,152.38 L344.52,152.36 L344.70,152.34 L344.88,152.32 L345.05,152.29 L345.23,152.27 L345.41,152.24 L345.59,152.21 L345.76,152.18 L345.94,152.15 L346.12,152.12 L346.30,152.08 L346.48,152.04 L346.65,152.00 L346.83,151.96 L347.01,151.91 L347.19,151.86 L347.36,151.81 L347.54,151.76 L347.72,151.70 L347.90,151.63 L348.08,151.56 L348.25,151.49 L348.43,151.41 L348.61,151.32 L348.79,151.23 L348.96,151.12 L349.14,151.01 L349.32,150.89 L349.50,150.75 L349.68,150.59 L349.85,150.42 L350.03,150.23 L350.21,150.01 L350.39,149.76 L350.56,149.48 L350.74,149.16 L350.92,148.80 L351.10,148.39 L351.28,147.93 L351.45,147.40 L351.63,146.80 L351.81,146.13 L351.99,145.38 L352.16,144.54 L352.34,143.61 L352.52,142.59 L352.70,141.47 L352.88,140.27 L353.05,138.98 L353.23,137.62 L353.41,136.22 L353.59,134.81 L353.76,133.42 L353.94,132.11 L354.12,130.95 L354.30,130.01 L354.47,129.35 L354.65,129.03 L354.83,129.07 L355.01,129.46 L355.19,130.18 L355.36,131.17 L355.54,132.36 L355.72,133.69 L355.90,135.09 L356.07,136.51 L356.25,137.90 L356.43,139.24 L356.61,140.51 L356.79,141.70 L356.96,142.80 L357.14,143.80 L357.32,144.71 L357.50,145.53 L357.67,146.27 L357.85,146.93 L358.03,147.51 L358.21,148.02 L358.39,148.48 L358.56,148.88 L358.74,149.23 L358.92,149.54 L359.10,149.81 L359.27,150.05 L359.45,150.27 L359.63,150.46 L359.81,150.62 L359.99,150.78 L360.16,150.91 L360.34,151.03 L360.52,151.15 L360.70,151.25 L360.87,151.34 L361.05,151.43 L361.23,151.51 L361.41,151.58 L361.58,151.65 L361.76,151.71 L361.94,151.77 L362.12,151.82 L362.30,151.87 L362.47,151.92 L362.65,151.97 L362.83,152.01 L363.01,152.05 L363.18,152.09 L363.36,152.12 L363.54,152.16 L363.72,152.19 L363.90,152.22 L364.07,152.25 L364.25,152.27 L364.43,152.30 L364.61,152.32 L364.78,152.34 L364.96,152.37 L365.14,152.39 L365.32,152.41 L365.50,152.43 L365.67,152.44 L365.85,152.46 L366.03,152.48 L366.21,152.49 L366.38,152.51 L366.56,152.52 L366.74,152.54 L366.92,152.55 L367.10,152.56 L367.27,152.57 L367.45,152.58 L367.63,152.60 L367.81,152.61 L367.98,152.62 L368.16,152.63 L368.34,152.64 L368.52,152.65 L368.69,152.65 L368.87,152.66 L369.05,152.67 L369.23,152.68 L369.41,152.69 L369.58,152.69 L369.76,152.70 L369.94,152.71 L370.12,152.71 L370.29,152.72 L370.47,152.73 L370.65,152.73 L370.83,152.74 L371.01,152.74 L371.18,152.75 L371.36,152.75 L371.54,152.76 L371.72,152.76 L371.89,152.77 L372.07,152.77 L372.25,152.78 L372.43,152.78 L372.61,152.79 L372.78,152.79 L372.96,152.80 L373.14,152.80 L373.32,152.80 L373.49,152.81 L373.67,152.81 L373.85,152.81 L374.03,152.82 L374.20,152.82 L374.38,152.82 L374.56,152.83 L374.74,152.83 L374.92,152.83 L375.09,152.84 L375.27,152.84 L375.45,152.84 L375.63,152.84 L375.80,152.85 L375.98,152.85" fill="none" stroke="#e8a8b0" stroke-width="0.6"/>
<path d="M355.54,152.98 L355.72,152.98 L355.90,152.98 L356.07,152.98 L356.25,152.98 L356.43,152.98 L356.61,152.98 L356.79,152.98 L356.96,152.98 L357.14,152.98 L357.32,152.98 L357.50,152.98 L357.67,152.98 L357.85,152.98 L358.03,152.98 L358.21,152.98 L358.39,152.98 L358.56,152.98 L358.74,152.98 L358.92,152.98 L359.10,152.98 L359.27,152.98 L359.45,152.97 L359.63,152.97 L359.81,152.97 L359.99,152.97 L360.16,152.97 L360.34,152.97 L360.52,152.97 L360.70,152.97 L360.87,152.97 L361.05,152.97 L361.23,152.97 L361.41,152.97 L361.58,152.97 L361.76,152.97 L361.94,152.97 L362.12,152.97 L362.30,152.96 L362.47,152.96 L362.65,152.96 L362.83,152.96 L363.01,152.96 L363.18,152.96 L363.36,152.96 L363.54,152.96 L363.72,152.96 L363.90,152.95 L364.07,152.95 L364.25,152.95 L364.43,152.95 L364.61,152.95 L364.78,152.95 L364.96,152.95 L365.14,152.94 L365.32,152.94 L365.50,152.94 L365.67,152.94 L365.85,152.94 L366.03,152.94 L366.21,152.93 L366.38,152.93 L366.56,152.93 L366.74,152.93 L366.92,152.92 L367.10,152.92 L367.27,152.92 L367.45,152.91 L367.63,152.91 L367.81,152.91 L367.98,152.90 L368.16,152.90 L368.34,152.90 L368.52,152.89 L368.69,152.89 L368.87,152.88 L369.05,152.88 L369.23,152.87 L369.41,152.86 L369.58,152.86 L369.76,152.85 L369.94,152.84 L370.12,152.84 L370.29,152.83 L370.47,152.82 L370.65,152.81 L370.83,152.79 L371.01,152.78 L371.18,152.77 L371.36,152.75 L371.54,152.74 L371.72,152.72 L371.89,152.70 L372.07,152.68 L372.25,152.66 L372.43,152.63 L372.61,152.60 L372.78,152.56 L372.96,152.53 L373.14,152.48 L373.32,152.43 L373.49,152.37 L373.67,152.30 L373.85,152.21 L374.03,152.11 L374.20,151.98 L374.38,151.83 L374.56,151.64 L374.74,151.41 L374.92,151.13 L375.09,150.80 L375.27,150.40 L375.45,149.95 L375.63,149.43 L375.80,148.87 L375.98,148.27 L376.16,147.68 L376.34,147.14 L376.52,146.73 L376.69,146.52 L376.87,146.54 L377.05,146.80 L377.23,147.24 L377.40,147.79 L377.58,148.39 L377.76,148.98 L377.94,149.54 L378.12,150.04 L378.29,150.49 L378.47,150.87 L378.65,151.19 L378.83,151.46 L379.00,151.68 L379.18,151.86 L379.36,152.01 L379.54,152.13 L379.72,152.23 L379.89,152.31 L380.07,152.38 L380.25,152.44 L380.43,152.49 L380.60,152.53 L380.78,152.57 L380.96,152.61 L381.14,152.63 L381.31,152.66 L381.49,152.68 L381.67,152.71 L381.85,152.72 L382.03,152.74 L382.20,152.76 L382.38,152.77 L382.56,152.79 L382.74,152.80 L382.91,152.81 L383.09,152.82 L383.27,152.83 L383.45,152.84 L383.63,152.84 L383.80,152.85 L383.98,152.86 L384.16,152.87 L384.34,152.87 L384.51,152.88 L384.69,152.88 L384.87,152.89 L385.05,152.89 L385.23,152.90 L385.40,152.90 L385.58,152.90 L385.76,152.91 L385.94,152.91 L386.11,152.92 L386.29,152.92 L386.47,152.92 L386.65,152.92 L386.83,152.93 L387.00,152.93 L387.18,152.93 L387.36,152.93 L387.54,152.94 L387.71,152.94 L387.89,152.94 L388.07,152.94 L388.25,152.94 L388.43,152.95 L388.60,152.95 L388.78,152.95 L388.96,152.95 L389.14,152.95 L389.31,152.95 L389.49,152.95 L389.67,152.96 L389.85,152.96 L390.02,152.96 L390.20,152.96 L390.38,152.96 L390.56,152.96 L390.74,152.96 L390.91,152.96 L391.09,152.96 L391.27,152.96 L391.45,152.97 L391.62,152.97 L391.80,152.97 L391.98,152.97 L392.16,152.97 L392.34,152.97 L392.51,152.97 L392.69,152.97 L392.87,152.97 L393.05,152.97 L393.22,152.97 L393.40,152.97 L393.58,152.97 L393.76,152.97 L393.94,152.97 L394.11,152.98 L394.29,152.98 L394.47,152.98 L394.65,152.98 L394.82,152.98 L395.00,152.98 L395.18,152.98 L395.36,152.98 L395.53,152.98 L395.71,152.98 L395.89,152.98 L396.07,152.98 L396.25,152.98 L396.42,152.98 L396.60,152.98 L396.78,152.98 L396.96,152.98 L397.13,152.98 L397.31,152.98 L397.49,152.98 L397.67,152.98 L397.85,152.98 L398.02,152.98" fill="none" stroke="#e8a8b0" stroke-width="0.6"/>
<path d="M392.16,152.81 L392.34,152.81 L392.51,152.80 L392.69,152.80 L392.87,152.80 L393.05,152.79 L393.22,152.79 L393.40,152.79 L393.58,152.78 L393.76,152.78 L393.94,152.77 L394.11,152.77 L394.29,152.77 L394.47,152.76 L394.65,152.76 L394.82,152.75 L395.00,152.75 L395.18,152.74 L395.36,152.74 L395.53,152.73 L395.71,152.73 L395.89,152.72 L396.07,152.71 L396.25,152.71 L396.42,152.70 L396.60,152.70 L396.78,152.69 L396.96,152.68 L397.13,152.68 L397.31,152.67 L397.49,152.66 L397.67,152.65 L397.85,152.65 L398.02,152.64 L398.20,152.63 L398.38,152.62 L398.56,152.61 L398.73,152.60 L398.91,152.59 L399.09,152.58 L399.27,152.57 L399.45,152.56 L399.62,152.55 L399.80,152.54 L399.98,152.52 L400.16,152.51 L400.33,152.50 L400.51,152.48 L400.69,152.47 L400.87,152.45 L401.05,152.44 L401.22,152.42 L401.40,152.40 L401.58,152.39 L401.76,152.37 L401.93,152.35 L402.11,152.33 L402.29,152.31 L402.47,152.28 L402.64,152.26 L402.82,152.23 L403.00,152.21 L403.18,152.18 L403.36,152.15 L403.53,152.12 L403.71,152.09 L403.89,152.05 L404.07,152.02 L404.24,151.98 L404.42,151.94 L404.60,151.90 L404.78,151.85 L404.96,151.80 L405.13,151.75 L405.31,151.69 L405.49,151.63 L405.67,151.57 L405.84,151.50 L406.02,151.43 L406.20,151.35 L406.38,151.27 L406.56,151.18 L406.73,151.08 L406.91,150.98 L407.09,150.86 L407.27,150.74 L407.44,150.61 L407.62,150.46 L407.80,150.30 L407.98,150.12 L408.16,149.93 L408.33,149.72 L408.51,149.48 L408.69,149.22 L408.87,148.93 L409.04,148.60 L409.22,148.23 L409.40,147.82 L409.58,147.35 L409.75,146.82 L409.93,146.20 L410.11,145.49 L410.29,144.66 L410.47,143.68 L410.64,142.51 L410.82,141.09 L411.00,139.35 L411.18,137.21 L411.35,134.56 L411.53,131.27 L411.71,127.21 L411.89,122.22 L412.07,116.18 L412.24,109.00 L412.42,100.70 L412.60,91.51 L412.78,82.06 L412.95,73.46 L413.13,67.27 L413.31,65.00 L413.49,67.27 L413.67,73.46 L413.84,82.06 L414.02,91.51 L414.20,100.70 L414.38,109.00 L414.55,116.18 L414.73,122.22 L414.91,127.21 L415.09,131.27 L415.27,134.56 L415.44,137.21 L415.62,139.35 L415.80,141.09 L415.98,142.51 L416.15,143.68 L416.33,144.66 L416.51,145.49 L416.69,146.20 L416.87,146.82 L417.04,147.35 L417.22,147.82 L417.40,148.23 L417.58,148.60 L417.75,148.93 L417.93,149.22 L418.11,149.48 L418.29,149.72 L418.46,149.93 L418.64,150.12 L418.82,150.30 L419.00,150.46 L419.18,150.61 L419.35,150.74 L419.53,150.86 L419.71,150.98 L419.89,151.08 L420.06,151.18 L420.24,151.27 L420.42,151.35 L420.60,151.43 L420.78,151.50 L420.95,151.57 L421.13,151.63 L421.31,151.69 L421.49,151.75 L421.66,151.80 L421.84,151.85 L422.02,151.90 L422.20,151.94 L422.38,151.98 L422.55,152.02 L422.73,152.05 L422.91,152.09 L423.09,152.12 L423.26,152.15 L423.44,152.18 L423.62,152.21 L423.80,152.23 L423.98,152.26 L424.15,152.28 L424.33,152.31 L424.51,152.33 L424.69,152.35 L424.86,152.37 L425.04,152.39 L425.22,152.40 L425.40,152.42 L425.57,152.44 L425.75,152.45 L425.93,152.47 L426.11,152.48 L426.29,152.50 L426.46,152.51 L426.64,152.52 L426.82,152.54 L427.00,152.55 L427.17,152.56 L427.35,152.57 L427.53,152.58 L427.71,152.59 L427.89,152.60 L428.06,152.61 L428.24,152.62 L428.42,152.63 L428.60,152.64 L428.77,152.65 L428.95,152.65 L429.13,152.66 L429.31,152.67 L429.49,152.68 L429.66,152.68 L429.84,152.69 L430.02,152.70 L430.20,152.70 L430.37,152.71 L430.55,152.71 L430.73,152.72 L430.91,152.73 L431.08,152.73 L431.26,152.74 L431.44,152.74 L431.62,152.75 L431.80,152.75 L431.97,152.76 L432.15,152.76 L432.33,152.77 L432.51,152.77 L432.68,152.77 L432.86,152.78 L433.04,152.78 L433.22,152.79 L433.40,152.79 L433.57,152.79 L433.75,152.80 L433.93,152.80 L434.11,152.80 L434.28,152.81 L434.46,152.81" fill="none" stroke="#e8a8b0" stroke-width="0.6"/>
<path d="M415.27,152.97 L415.44,152.97 L415.62,152.97 L415.80,152.97 L415.98,152.97 L416.15,152.97 L416.33,152.97 L416.51,152.97 L416.69,152.97 L416.87,152.97 L417.04,152.97 L417.22,152.97 L417.40,152.97 L417.58,152.97 L417.75,152.97 L417.93,152.97 L418.11,152.96 L418.29,152.96 L418.46,152.96 L418.64,152.96 L418.82,152.96 L419.00,152.96 L419.18,152.96 L419.35,152.96 L419.53,152.96 L419.71,152.96 L419.89,152.96 L420.06,152.96 L420.24,152.96 L420.42,152.95 L420.60,152.95 L420.78,152.95 L420.95,152.95 L421.13,152.95 L421.31,152.95 L421.49,152.95 L421.66,152.95 L421.84,152.94 L422.02,152.94 L422.20,152.94 L422.38,152.94 L422.55,152.94 L422.73,152.94 L422.91,152.94 L423.09,152.93 L423.26,152.93 L423.44,152.93 L423.62,152.93 L423.80,152.93 L423.98,152.93 L424.15,152.92 L424.33,152.92 L424.51,152.92 L424.69,152.92 L424.86,152.91 L425.04,152.91 L425.22,152.91 L425.40,152.91 L425.57,152.90 L425.75,152.90 L425.93,152.90 L426.11,152.89 L426.29,152.89 L426.46,152.88 L426.64,152.88 L426.82,152.88 L427.00,152.87 L427.17,152.87 L427.35,152.86 L427.53,152.86 L427.71,152.85 L427.89,152.85 L428.06,152.84 L428.24,152.83 L428.42,152.83 L428.60,152.82 L428.77,152.81 L428.95,152.80 L429.13,152.79 L429.31,152.78 L429.49,152.77 L429.66,152.76 L429.84,152.75 L430.02,152.74 L430.20,152.72 L430.37,152.71 L430.55,152.69 L430.73,152.67 L430.91,152.65 L431.08,152.63 L431.26,152.60 L431.44,152.57 L431.62,152.54 L431.80,152.51 L431.97,152.47 L432.15,152.42 L432.33,152.37 L432.51,152.31 L432.68,152.25 L432.86,152.18 L433.04,152.10 L433.22,152.01 L433.40,151.91 L433.57,151.80 L433.75,151.68 L433.93,151.55 L434.11,151.40 L434.28,151.25 L434.46,151.08 L434.64,150.91 L434.82,150.73 L435.00,150.54 L435.17,150.35 L435.35,150.16 L435.53,149.99 L435.71,149.83 L435.88,149.69 L436.06,149.59 L436.24,149.52 L436.42,149.50 L436.60,149.52 L436.77,149.59 L436.95,149.69 L437.13,149.83 L437.31,149.99 L437.48,150.16 L437.66,150.35 L437.84,150.54 L438.02,150.73 L438.19,150.91 L438.37,151.08 L438.55,151.25 L438.73,151.40 L438.91,151.55 L439.08,151.68 L439.26,151.80 L439.44,151.91 L439.62,152.01 L439.79,152.10 L439.97,152.18 L440.15,152.25 L440.33,152.31 L440.51,152.37 L440.68,152.42 L440.86,152.47 L441.04,152.51 L441.22,152.54 L441.39,152.57 L441.57,152.60 L441.75,152.63" fill="none" stroke="#e8a8b0" stroke-width="0.6"/>
<path d="M264.00,145.56 L264.18,145.56 L264.36,145.56 L264.53,145.55 L264.71,145.55 L264.89,145.55 L265.07,145.54 L265.24,145.54 L265.42,145.53 L265.60,145.52 L265.78,145.51 L265.96,145.51 L266.13,145.50 L266.31,145.48 L266.49,145.47 L266.67,145.46 L266.84,145.45 L267.02,145.43 L267.20,145.42 L267.38,145.40 L267.56,145.39 L267.73,145.37 L267.91,145.35 L268.09,145.33 L268.27,145.31 L268.44,145.29 L268.62,145.27 L268.80,145.25 L268.98,145.23 L269.15,145.21 L269.33,145.19 L269.51,145.16 L269.69,145.14 L269.87,145.11 L270.04,145.09 L270.22,145.06 L270.40,145.04 L270.58,145.01 L270.75,144.98 L270.93,144.95 L271.11,144.92 L271.29,144.90 L271.47,144.87 L271.64,144.84 L271.82,144.81 L272.00,144.78 L272.18,144.75 L272.35,144.71 L272.53,144.68 L272.71,144.65 L272.89,144.62 L273.07,144.59 L273.24,144.56 L273.42,144.52 L273.60,144.49 L273.78,144.46 L273.95,144.42 L274.13,144.39 L274.31,144.36 L274.49,144.32 L274.67,144.29 L274.84,144.26 L275.02,144.22 L275.20,144.19 L275.38,144.16 L275.55,144.12 L275.73,144.09 L275.91,144.06 L276.09,144.02 L276.26,143.99 L276.44,143.96 L276.62,143.92 L276.80,143.89 L276.98,143.86 L277.15,143.82 L277.33,143.79 L277.51,143.76 L277.69,143.73 L277.86,143.69 L278.04,143.66 L278.22,143.63 L278.40,143.60 L278.58,143.57 L278.75,143.54 L278.93,143.51 L279.11,143.48 L279.29,143.44 L279.46,143.42 L279.64,143.39 L279.82,143.36 L280.00,143.33 L280.18,143.30 L280.35,143.27 L280.53,143.24 L280.71,143.21 L280.89,143.19 L281.06,143.16 L281.24,143.13 L281.42,143.11 L281.60,143.08 L281.77,143.05 L281.95,143.03 L282.13,143.00 L282.31,142.98 L282.49,142.96 L282.66,142.93 L282.84,142.91 L283.02,142.89 L283.20,142.86 L283.37,142.84 L283.55,142.82 L283.73,142.80 L283.91,142.78 L284.09,142.76 L284.26,142.73 L284.44,142.72 L284.62,142.70 L284.80,142.68 L284.97,142.66 L285.15,142.64 L285.33,142.62 L285.51,142.60 L285.69,142.59 L285.86,142.57 L286.04,142.55 L286.22,142.54 L286.40,142.52 L286.57,142.50 L286.75,142.49 L286.93,142.47 L287.11,142.46 L287.29,142.45 L287.46,142.43 L287.64,142.42 L287.82,142.41 L288.00,142.39 L288.17,142.38 L288.35,142.37 L288.53,142.36 L288.71,142.34 L288.88,142.33 L289.06,142.32 L289.24,142.31 L289.42,142.30 L289.60,142.29 L289.77,142.28 L289.95,142.27 L290.13,142.26 L290.31,142.25 L290.48,142.24 L290.66,142.23 L290.84,142.23 L291.02,142.22 L291.20,142.21 L291.37,142.20 L291.55,142.19 L291.73,142.19 L291.91,142.18 L292.08,142.17 L292.26,142.17 L292.44,142.16 L292.62,142.15 L292.80,142.15 L292.97,142.14 L293.15,142.14 L293.33,142.13 L293.51,142.12 L293.68,142.12 L293.86,142.11 L294.04,142.11 L294.22,142.10 L294.40,142.10 L294.57,142.10 L294.75,142.09 L294.93,142.09 L295.11,142.08 L295.28,142.08 L295.46,142.07 L295.64,142.07 L295.82,142.07 L296.00,142.06 L296.17,142.06 L296.35,142.06 L296.53,142.05 L296.71,142.05 L296.88,142.05 L297.06,142.04 L297.24,142.04 L297.42,142.04 L297.59,142.04 L297.77,142.03 L297.95,142.03 L298.13,142.03 L298.31,142.03 L298.48,142.02 L298.66,142.02 L298.84,142.02 L299.02,142.02 L299.19,142.01 L299.37,142.01 L299.55,142.01 L299.73,142.01 L299.91,142.01 L300.08,142.00 L300.26,142.00 L300.44,142.00 L300.62,142.00 L300.79,142.00 L300.97,142.00 L301.15,141.99 L301.33,141.99 L301.51,141.99 L301.68,141.99 L301.86,141.99 L302.04,141.99 L302.22,141.98 L302.39,141.98 L302.57,141.98 L302.75,141.98 L302.93,141.98 L303.11,141.98 L303.28,141.97 L303.46,141.97 L303.64,141.97 L303.82,141.97 L303.99,141.97 L304.17,141.97 L304.35,141.97 L304.53,141.96 L304.70,141.96 L304.88,141.96 L305.06,141.96 L305.24,141.96 L305.42,141.96 L305.59,141.96 L305.77,141.95 L305.95,141.95 L306.13,141.95 L306.30,141.95 L306.48,141.95 L306.66,141.95 L306.84,141.95 L307.02,141.94 L307.19,141.94 L307.37,141.94 L307.55,141.94 L307.73,141.94 L307.90,141.94 L308.08,141.94 L308.26,141.93 L308.44,141.93 L308.62,141.93 L308.79,141.93 L308.97,141.93 L309.15,141.93 L309.33,141.92 L309.50,141.92 L309.68,141.92 L309.86,141.92 L310.04,141.92 L310.21,141.92 L310.39,141.91 L310.57,141.91 L310.75,141.91 L310.93,141.91 L311.10,141.91 L311.28,141.91 L311.46,141.90 L311.64,141.90 L311.81,141.90 L311.99,141.90 L312.17,141.90 L312.35,141.89 L312.53,141.89 L312.70,141.89 L312.88,141.89 L313.06,141.89 L313.24,141.88 L313.41,141.88 L313.59,141.88 L313.77,141.88 L313.95,141.87 L314.13,141.87 L314.30,141.87 L314.48,141.87 L314.66,141.86 L314.84,141.86 L315.01,141.86 L315.19,141.86 L315.37,141.85 L315.55,141.85 L315.73,141.85 L315.90,141.85 L316.08,141.84 L316.26,141.84 L316.44,141.84 L316.61,141.83 L316.79,141.83 L316.97,141.83 L317.15,141.82 L317.32,141.82 L317.50,141.82 L317.68,141.81 L317.86,141.81 L318.04,141.81 L318.21,141.80 L318.39,141.80 L318.57,141.80 L318.75,141.79 L318.92,141.79 L319.10,141.78 L319.28,141.78 L319.46,141.78 L319.64,141.77 L319.81,141.77 L319.99,141.76 L320.17,141.76 L320.35,141.75 L320.52,141.75 L320.70,141.74 L320.88,141.74 L321.06,141.73 L321.24,141.73 L321.41,141.72 L321.59,141.72 L321.77,141.71 L321.95,141.71 L322.12,141.70 L322.30,141.70 L322.48,141.69 L322.66,141.68 L322.84,141.68 L323.01,141.67 L323.19,141.66 L323.37,141.66 L323.55,141.65 L323.72,141.64 L323.90,141.63 L324.08,141.63 L324.26,141.62 L324.44,141.61 L324.61,141.60 L324.79,141.59 L324.97,141.58 L325.15,141.57 L325.32,141.56 L325.50,141.55 L325.68,141.54 L325.86,141.53 L326.03,141.52 L326.21,141.51 L326.39,141.49 L326.57,141.48 L326.75,141.47 L326.92,141.45 L327.10,141.44 L327.28,141.42 L327.46,141.41 L327.63,141.39 L327.81,141.37 L327.99,141.35 L328.17,141.33 L328.35,141.31 L328.52,141.29 L328.70,141.26 L328.88,141.24 L329.06,141.21 L329.23,141.18 L329.41,141.15 L329.59,141.11 L329.77,141.08 L329.95,141.04 L330.12,140.99 L330.30,140.94 L330.48,140.89 L330.66,140.82 L330.83,140.75 L331.01,140.67 L331.19,140.58 L331.37,140.46 L331.55,140.33 L331.72,140.17 L331.90,139.97 L332.08,139.74 L332.26,139.47 L332.43,139.14 L332.61,138.77 L332.79,138.34 L332.97,137.86 L333.14,137.34 L333.32,136.80 L333.50,136.28 L333.68,135.83 L333.86,135.52 L334.03,135.38 L334.21,135.45 L334.39,135.70 L334.57,136.08 L334.74,136.53 L334.92,137.00 L335.10,137.45 L335.28,137.85 L335.46,138.21 L335.63,138.51 L335.81,138.76 L335.99,138.95 L336.17,139.10 L336.34,139.21 L336.52,139.28 L336.70,139.32 L336.88,139.33 L337.06,139.32 L337.23,139.29 L337.41,139.24 L337.59,139.17 L337.77,139.09 L337.94,138.99 L338.12,138.87 L338.30,138.74 L338.48,138.60 L338.65,138.43 L338.83,138.25 L339.01,138.05 L339.19,137.84 L339.37,137.60 L339.54,137.34 L339.72,137.06 L339.90,136.75 L340.08,136.42 L340.25,136.07 L340.43,135.70 L340.61,135.30 L340.79,134.88 L340.97,134.44 L341.14,133.97 L341.32,133.49 L341.50,132.99 L341.68,132.48 L341.85,131.96 L342.03,131.44 L342.21,130.93 L342.39,130.44 L342.57,129.97 L342.74,129.54 L342.92,129.16 L343.10,128.83 L343.28,128.58 L343.45,128.40 L343.63,128.30 L343.81,128.29 L343.99,128.36 L344.17,128.51 L344.34,128.72 L344.52,128.99 L344.70,129.31 L344.88,129.66 L345.05,130.04 L345.23,130.43 L345.41,130.82 L345.59,131.21 L345.76,131.58 L345.94,131.94 L346.12,132.28 L346.30,132.59 L346.48,132.87 L346.65,133.12 L346.83,133.34 L347.01,133.52 L347.19,133.65 L347.36,133.75 L347.54,133.79 L347.72,133.79 L347.90,133.73 L348.08,133.61 L348.25,133.41 L348.43,133.14 L348.61,132.78 L348.79,132.32 L348.96,131.74 L349.14,131.04 L349.32,130.18 L349.50,129.16 L349.68,127.96 L349.85,126.56 L350.03,124.93 L350.21,123.06 L350.39,120.94 L350.56,118.54 L350.74,115.87 L350.92,112.91 L351.10,109.67 L351.28,106.15 L351.45,102.37 L351.63,98.36 L351.81,94.14 L351.99,89.77 L352.16,85.30 L352.34,80.80 L352.52,76.37 L352.70,72.10 L352.88,68.10 L353.05,64.50 L353.23,61.41 L353.41,58.94 L353.59,57.17 L353.76,56.18 L353.94,55.99 L354.12,56.61 L354.30,58.03 L354.47,60.21 L354.65,63.09 L354.83,66.58 L355.01,70.59 L355.19,75.00 L355.36,79.66 L355.54,84.45 L355.72,89.26 L355.90,93.97 L356.07,98.50 L356.25,102.79 L356.43,106.80 L356.61,110.51 L356.79,113.89 L356.96,116.95 L357.14,119.69 L357.32,122.14 L357.50,124.30 L357.67,126.20 L357.85,127.86 L358.03,129.31 L358.21,130.56 L358.39,131.65 L358.56,132.59 L358.74,133.41 L358.92,134.11 L359.10,134.72 L359.27,135.26 L359.45,135.73 L359.63,136.14 L359.81,136.50 L359.99,136.83 L360.16,137.12 L360.34,137.38 L360.52,137.62 L360.70,137.84 L360.87,138.04 L361.05,138.22 L361.23,138.39 L361.41,138.55 L361.58,138.70 L361.76,138.83 L361.94,138.96 L362.12,139.08 L362.30,139.20 L362.47,139.30 L362.65,139.41 L362.83,139.50 L363.01,139.59 L363.18,139.67 L363.36,139.75 L363.54,139.83 L363.72,139.90 L363.90,139.97 L364.07,140.04 L364.25,140.10 L364.43,140.16 L364.61,140.21 L364.78,140.26 L364.96,140.31 L365.14,140.36 L365.32,140.41 L365.50,140.45 L365.67,140.49 L365.85,140.53 L366.03,140.57 L366.21,140.61 L366.38,140.64 L366.56,140.67 L366.74,140.70 L366.92,140.73 L367.10,140.76 L367.27,140.79 L367.45,140.81 L367.63,140.84 L367.81,140.86 L367.98,140.88 L368.16,140.90 L368.34,140.92 L368.52,140.94 L368.69,140.96 L368.87,140.98 L369.05,140.99 L369.23,141.01 L369.41,141.02 L369.58,141.03 L369.76,141.04 L369.94,141.05 L370.12,141.06 L370.29,141.07 L370.47,141.07 L370.65,141.08 L370.83,141.08 L371.01,141.09 L371.18,141.09 L371.36,141.09 L371.54,141.08 L371.72,141.08 L371.89,141.07 L372.07,141.06 L372.25,141.05 L372.43,141.03 L372.61,141.01 L372.78,140.99 L372.96,140.96 L373.14,140.93 L373.32,140.89 L373.49,140.84 L373.67,140.77 L373.85,140.70 L374.03,140.60 L374.20,140.48 L374.38,140.34 L374.56,140.15 L374.74,139.93 L374.92,139.66 L375.09,139.34 L375.27,138.95 L375.45,138.50 L375.63,138.00 L375.80,137.44 L375.98,136.84 L376.16,136.26 L376.34,135.73 L376.52,135.33 L376.69,135.12 L376.87,135.15 L377.05,135.41 L377.23,135.85 L377.40,136.41 L377.58,137.02 L377.76,137.62 L377.94,138.18 L378.12,138.69 L378.29,139.13 L378.47,139.52 L378.65,139.84 L378.83,140.11 L379.00,140.34 L379.18,140.53 L379.36,140.68 L379.54,140.81 L379.72,140.91 L379.89,141.00 L380.07,141.07 L380.25,141.13 L380.43,141.18 L380.60,141.23 L380.78,141.27 L380.96,141.31 L381.14,141.34 L381.31,141.37 L381.49,141.39 L381.67,141.42 L381.85,141.44 L382.03,141.46 L382.20,141.48 L382.38,141.49 L382.56,141.51 L382.74,141.52 L382.91,141.54 L383.09,141.55 L383.27,141.56 L383.45,141.57 L383.63,141.58 L383.80,141.59 L383.98,141.60 L384.16,141.61 L384.34,141.62 L384.51,141.62 L384.69,141.63 L384.87,141.64 L385.05,141.64 L385.23,141.65 L385.40,141.65 L385.58,141.66 L385.76,141.66 L385.94,141.67 L386.11,141.67 L386.29,141.67 L386.47,141.68 L386.65,141.68 L386.83,141.68 L387.00,141.69 L387.18,141.69 L387.36,141.69 L387.54,141.70 L387.71,141.70 L387.89,141.70 L388.07,141.70 L388.25,141.70 L388.43,141.71 L388.60,141.71 L388.78,141.71 L388.96,141.71 L389.14,141.71 L389.31,141.71 L389.49,141.71 L389.67,141.71 L389.85,141.71 L390.02,141.71 L390.20,141.71 L390.38,141.71 L390.56,141.72 L390.74,141.72 L390.91,141.71 L391.09,141.71 L391.27,141.71 L391.45,141.71 L391.62,141.71 L391.80,141.71 L391.98,141.71 L392.16,141.71 L392.34,141.71 L392.51,141.71 L392.69,141.71 L392.87,141.71 L393.05,141.70 L393.22,141.70 L393.40,141.70 L393.58,141.70 L393.76,141.70 L393.94,141.69 L394.11,141.69 L394.29,141.69 L394.47,141.69 L394.65,141.68 L394.82,141.68 L395.00,141.68 L395.18,141.67 L395.36,141.67 L395.53,141.67 L395.71,141.66 L395.89,141.66 L396.07,141.65 L396.25,141.65 L396.42,141.64 L396.60,141.64 L396.78,141.63 L396.96,141.63 L397.13,141.62 L397.31,141.62 L397.49,141.61 L397.67,141.60 L397.85,141.60 L398.02,141.59 L398.20,141.58 L398.38,141.57 L398.56,141.57 L398.73,141.56 L398.91,141.55 L399.09,141.54 L399.27,141.53 L399.45,141.52 L399.62,141.51 L399.80,141.50 L399.98,141.49 L400.16,141.48 L400.33,141.46 L400.51,141.45 L400.69,141.44 L400.87,141.42 L401.05,141.41 L401.22,141.39 L401.40,141.38 L401.58,141.36 L401.76,141.34 L401.93,141.32 L402.11,141.30 L402.29,141.28 L402.47,141.26 L402.64,141.24 L402.82,141.21 L403.00,141.19 L403.18,141.16 L403.36,141.13 L403.53,141.10 L403.71,141.07 L403.89,141.03 L404.07,141.00 L404.24,140.96 L404.42,140.92 L404.60,140.88 L404.78,140.83 L404.96,140.79 L405.13,140.73 L405.31,140.68 L405.49,140.62 L405.67,140.56 L405.84,140.49 L406.02,140.42 L406.20,140.34 L406.38,140.26 L406.56,140.17 L406.73,140.07 L406.91,139.97 L407.09,139.86 L407.27,139.73 L407.44,139.60 L407.62,139.45 L407.80,139.29 L407.98,139.12 L408.16,138.92 L408.33,138.71 L408.51,138.48 L408.69,138.21 L408.87,137.92 L409.04,137.60 L409.22,137.23 L409.40,136.82 L409.58,136.35 L409.75,135.82 L409.93,135.20 L410.11,134.49 L410.29,133.66 L410.47,132.68 L410.64,131.51 L410.82,130.09 L411.00,128.35 L411.18,126.21 L411.35,123.56 L411.53,120.28 L411.71,116.21 L411.89,111.22 L412.07,105.18 L412.24,98.00 L412.42,89.70 L412.60,80.52 L412.78,71.06 L412.95,62.46 L413.13,56.28 L413.31,54.00 L413.49,56.28 L413.67,62.46 L413.84,71.06 L414.02,80.52 L414.20,89.70 L414.38,98.00 L414.55,105.18 L414.73,111.22 L414.91,116.21 L415.09,120.28 L415.27,123.57 L415.44,126.22 L415.62,128.36 L415.80,130.09 L415.98,131.51 L416.15,132.69 L416.33,133.67 L416.51,134.50 L416.69,135.21 L416.87,135.82 L417.04,136.35 L417.22,136.82 L417.40,137.24 L417.58,137.60 L417.75,137.93 L417.93,138.22 L418.11,138.48 L418.29,138.72 L418.46,138.93 L418.64,139.12 L418.82,139.30 L419.00,139.46 L419.18,139.60 L419.35,139.74 L419.53,139.86 L419.71,139.98 L419.89,140.08 L420.06,140.18 L420.24,140.27 L420.42,140.35 L420.60,140.43 L420.78,140.50 L420.95,140.56 L421.13,140.63 L421.31,140.68 L421.49,140.74 L421.66,140.79 L421.84,140.84 L422.02,140.88 L422.20,140.92 L422.38,140.96 L422.55,141.00 L422.73,141.04 L422.91,141.07 L423.09,141.10 L423.26,141.13 L423.44,141.16 L423.62,141.18 L423.80,141.21 L423.98,141.23 L424.15,141.25 L424.33,141.27 L424.51,141.29 L424.69,141.31 L424.86,141.33 L425.04,141.35 L425.22,141.36 L425.40,141.38 L425.57,141.39 L425.75,141.40 L425.93,141.41 L426.11,141.43 L426.29,141.44 L426.46,141.45 L426.64,141.45 L426.82,141.46 L427.00,141.47 L427.17,141.48 L427.35,141.48 L427.53,141.49 L427.71,141.49 L427.89,141.50 L428.06,141.50 L428.24,141.51 L428.42,141.51 L428.60,141.51 L428.77,141.51 L428.95,141.51 L429.13,141.51 L429.31,141.51 L429.49,141.50 L429.66,141.50 L429.84,141.49 L430.02,141.49 L430.20,141.48 L430.37,141.47 L430.55,141.46 L430.73,141.45 L430.91,141.43 L431.08,141.41 L431.26,141.39 L431.44,141.37 L431.62,141.34 L431.80,141.31 L431.97,141.28 L432.15,141.24 L432.33,141.19 L432.51,141.14 L432.68,141.08 L432.86,141.01 L433.04,140.94 L433.22,140.85 L433.40,140.76 L433.57,140.65 L433.75,140.53 L433.93,140.41 L434.11,140.27 L434.28,140.12 L434.46,139.95 L434.64,139.78 L434.82,139.60 L435.00,139.42 L435.17,139.23 L435.35,139.05 L435.53,138.88 L435.71,138.72 L435.88,138.59 L436.06,138.48 L436.24,138.42 L436.42,138.40 L436.60,138.43 L436.77,138.49 L436.95,138.60 L437.13,138.74 L437.31,138.90 L437.48,139.08 L437.66,139.41 L437.84,139.74 L438.02,140.07 L438.19,140.40 L438.37,140.71 L438.55,141.02 L438.73,141.32 L438.91,141.60 L439.08,141.87 L439.26,142.14 L439.44,142.39 L439.62,142.63 L439.79,142.86 L439.97,143.08 L440.15,143.30 L440.33,143.50 L440.51,143.70 L440.68,143.89 L440.86,144.08 L441.04,144.26 L441.22,144.44 L441.39,144.61 L441.57,144.78 L441.75,144.95" fill="none" stroke="#c83848" stroke-width="1.0"/>
<path d="M264.00,133.45 L264.18,133.95 L264.36,134.57 L264.53,134.08 L264.71,133.37 L264.89,133.66 L265.07,134.13 L265.24,134.72 L265.42,133.78 L265.60,133.21 L265.78,134.00 L265.96,134.31 L266.13,135.06 L266.31,135.17 L266.49,134.63 L266.67,134.24 L266.84,135.59 L267.02,134.75 L267.20,134.02 L267.38,133.43 L267.56,133.78 L267.73,133.99 L267.91,133.84 L268.09,133.92 L268.27,134.14 L268.44,134.49 L268.62,134.91 L268.80,134.65 L268.98,133.40 L269.15,134.09 L269.33,133.30 L269.51,133.55 L269.69,132.97 L269.87,133.46 L270.04,133.30 L270.22,133.76 L270.40,135.71 L270.58,134.94 L270.75,135.00 L270.93,133.85 L271.11,133.78 L271.29,134.26 L271.47,134.11 L271.64,134.28 L271.82,134.23 L272.00,133.59 L272.18,134.10 L272.35,133.62 L272.53,134.83 L272.71,134.19 L272.89,134.49 L273.07,134.28 L273.24,134.69 L273.42,134.05 L273.60,134.59 L273.78,134.26 L273.95,134.84 L274.13,134.81 L274.31,134.52 L274.49,133.86 L274.67,134.34 L274.84,134.44 L275.02,135.14 L275.20,134.42 L275.38,134.53 L275.55,134.56 L275.73,134.45 L275.91,134.35 L276.09,134.28 L276.26,133.81 L276.44,133.32 L276.62,133.39 L276.80,133.97 L276.98,134.79 L277.15,134.95 L277.33,135.08 L277.51,134.99 L277.69,134.90 L277.86,134.57 L278.04,134.70 L278.22,135.33 L278.40,134.51 L278.58,133.86 L278.75,134.96 L278.93,134.62 L279.11,134.83 L279.29,134.89 L279.46,133.81 L279.64,135.18 L279.82,135.57 L280.00,134.90 L280.18,134.84 L280.35,134.47 L280.53,133.70 L280.71,133.70 L280.89,133.96 L281.06,134.51 L281.24,134.59 L281.42,134.27 L281.60,134.80 L281.77,133.92 L281.95,134.29 L282.13,134.67 L282.31,134.09 L282.49,132.95 L282.66,132.80 L282.84,133.34 L283.02,133.80 L283.20,134.60 L283.37,133.63 L283.55,133.64 L283.73,134.00 L283.91,133.74 L284.09,132.38 L284.26,133.36 L284.44,134.72 L284.62,134.74 L284.80,133.69 L284.97,133.37 L285.15,133.53 L285.33,134.85 L285.51,134.54 L285.69,134.07 L285.86,134.59 L286.04,133.95 L286.22,134.64 L286.40,133.60 L286.57,133.12 L286.75,133.48 L286.93,134.03 L287.11,133.88 L287.29,133.56 L287.46,132.17 L287.64,131.97 L287.82,131.86 L288.00,131.79 L288.17,132.30 L288.35,132.01 L288.53,132.40 L288.71,132.14 L288.88,131.69 L289.06,131.60 L289.24,131.62 L289.42,131.77 L289.60,131.02 L289.77,130.63 L289.95,129.68 L290.13,130.68 L290.31,131.04 L290.48,130.23 L290.66,129.53 L290.84,128.64 L291.02,128.85 L291.20,128.92 L291.37,130.02 L291.55,129.54 L291.73,128.71 L291.91,127.37 L292.08,128.80 L292.26,128.97 L292.44,128.15 L292.62,128.76 L292.80,128.20 L292.97,130.78 L293.15,130.98 L293.33,130.87 L293.51,130.46 L293.68,129.23 L293.86,129.71 L294.04,129.23 L294.22,130.18 L294.40,129.21 L294.57,129.37 L294.75,130.62 L294.93,131.52 L295.11,130.44 L295.28,129.61 L295.46,130.44 L295.64,130.84 L295.82,130.00 L296.00,129.66 L296.17,129.44 L296.35,129.04 L296.53,129.12 L296.71,130.26 L296.88,130.64 L297.06,131.69 L297.24,131.18 L297.42,130.98 L297.59,130.51 L297.77,130.83 L297.95,130.45 L298.13,130.08 L298.31,131.33 L298.48,132.50 L298.66,132.88 L298.84,133.43 L299.02,133.20 L299.19,132.58 L299.37,132.73 L299.55,132.60 L299.73,132.16 L299.91,131.62 L300.08,131.47 L300.26,132.22 L300.44,132.74 L300.62,132.70 L300.79,133.74 L300.97,133.64 L301.15,133.82 L301.33,134.27 L301.51,133.41 L301.68,132.32 L301.86,133.22 L302.04,132.93 L302.22,133.87 L302.39,133.86 L302.57,134.23 L302.75,134.30 L302.93,132.78 L303.11,133.49 L303.28,133.11 L303.46,132.86 L303.64,132.91 L303.82,133.59 L303.99,134.03 L304.17,134.34 L304.35,133.05 L304.53,132.92 L304.70,131.87 L304.88,132.54 L305.06,133.29 L305.24,132.95 L305.42,133.31 L305.59,133.50 L305.77,134.03 L305.95,133.30 L306.13,132.89 L306.30,132.69 L306.48,133.96 L306.66,134.28 L306.84,133.77 L307.02,133.66 L307.19,133.52 L307.37,133.47 L307.55,133.18 L307.73,132.91 L307.90,132.21 L308.08,132.09 L308.26,133.21 L308.44,133.10 L308.62,132.65 L308.79,132.10 L308.97,131.75 L309.15,131.51 L309.33,130.58 L309.50,130.28 L309.68,129.91 L309.86,128.98 L310.04,128.37 L310.21,127.98 L310.39,127.91 L310.57,129.21 L310.75,128.42 L310.93,129.40 L311.10,129.97 L311.28,130.47 L311.46,131.28 L311.64,132.42 L311.81,132.56 L311.99,132.59 L312.17,132.41 L312.35,132.62 L312.53,133.34 L312.70,133.04 L312.88,132.49 L313.06,132.14 L313.24,132.05 L313.41,131.85 L313.59,133.13 L313.77,133.42 L313.95,133.27 L314.13,134.13 L314.30,133.44 L314.48,133.84 L314.66,134.09 L314.84,132.94 L315.01,132.31 L315.19,132.30 L315.37,133.31 L315.55,134.08 L315.73,133.12 L315.90,133.84 L316.08,133.45 L316.26,133.23 L316.44,133.02 L316.61,133.02 L316.79,132.20 L316.97,132.20 L317.15,132.06 L317.32,132.93 L317.50,134.29 L317.68,135.38 L317.86,134.28 L318.04,132.91 L318.21,132.87 L318.39,132.54 L318.57,133.96 L318.75,133.94 L318.92,133.20 L319.10,133.68 L319.28,133.70 L319.46,132.49 L319.64,132.39 L319.81,132.46 L319.99,132.59 L320.17,132.67 L320.35,132.40 L320.52,132.49 L320.70,132.04 L320.88,131.58 L321.06,132.60 L321.24,132.49 L321.41,132.46 L321.59,131.34 L321.77,131.54 L321.95,132.23 L322.12,131.51 L322.30,132.48 L322.48,132.26 L322.66,132.62 L322.84,132.57 L323.01,132.78 L323.19,133.47 L323.37,132.99 L323.55,133.84 L323.72,133.03 L323.90,132.52 L324.08,133.16 L324.26,132.54 L324.44,132.59 L324.61,133.32 L324.79,133.90 L324.97,132.57 L325.15,133.10 L325.32,134.15 L325.50,134.34 L325.68,133.66 L325.86,133.08 L326.03,132.93 L326.21,132.37 L326.39,132.54 L326.57,132.68 L326.75,132.77 L326.92,133.54 L327.10,133.18 L327.28,132.30 L327.46,133.19 L327.63,132.50 L327.81,132.46 L327.99,132.60 L328.17,132.55 L328.35,132.15 L328.52,132.33 L328.70,133.75 L328.88,132.99 L329.06,132.81 L329.23,133.39 L329.41,133.48 L329.59,133.52 L329.77,133.58 L329.95,132.03 L330.12,131.75 L330.30,132.12 L330.48,132.49 L330.66,133.10 L330.83,132.93 L331.01,132.40 L331.19,132.20 L331.37,131.88 L331.55,131.87 L331.72,131.99 L331.90,131.38 L332.08,130.63 L332.26,130.02 L332.43,130.55 L332.61,130.71 L332.79,130.37 L332.97,129.82 L333.14,129.19 L333.32,128.09 L333.50,127.58 L333.68,126.16 L333.86,125.76 L334.03,125.29 L334.21,125.99 L334.39,125.90 L334.57,126.39 L334.74,127.22 L334.92,128.45 L335.10,128.16 L335.28,128.10 L335.46,129.18 L335.63,128.82 L335.81,129.57 L335.99,129.47 L336.17,129.71 L336.34,128.91 L336.52,129.86 L336.70,129.71 L336.88,129.37 L337.06,130.79 L337.23,130.78 L337.41,132.26 L337.59,131.31 L337.77,130.31 L337.94,129.94 L338.12,130.49 L338.30,129.81 L338.48,129.61 L338.65,129.45 L338.83,128.49 L339.01,128.43 L339.19,127.96 L339.37,127.18 L339.54,127.82 L339.72,127.95 L339.90,127.58 L340.08,126.74 L340.25,125.56 L340.43,126.17 L340.61,126.07 L340.79,125.03 L340.97,125.23 L341.14,124.41 L341.32,124.64 L341.50,124.70 L341.68,124.66 L341.85,124.33 L342.03,123.86 L342.21,122.55 L342.39,121.86 L342.57,120.97 L342.74,120.15 L342.92,119.47 L343.10,118.81 L343.28,118.65 L343.45,116.11 L343.63,116.48 L343.81,116.75 L343.99,118.81 L344.17,119.79 L344.34,119.45 L344.52,120.84 L344.70,121.47 L344.88,122.94 L345.05,122.84 L345.23,123.48 L345.41,123.92 L345.59,124.25 L345.76,124.20 L345.94,123.49 L346.12,124.36 L346.30,125.10 L346.48,124.87 L346.65,124.17 L346.83,124.38 L347.01,124.62 L347.19,124.25 L347.36,124.03 L347.54,124.58 L347.72,123.36 L347.90,122.86 L348.08,121.68 L348.25,121.52 L348.43,121.21 L348.61,120.68 L348.79,120.27 L348.96,121.10 L349.14,120.09 L349.32,119.15 L349.50,119.39 L349.68,117.67 L349.85,115.10 L350.03,114.03 L350.21,111.75 L350.39,110.80 L350.56,107.42 L350.74,104.51 L350.92,100.74 L351.10,97.85 L351.28,93.72 L351.45,89.90 L351.63,85.44 L351.81,80.56 L351.99,76.38 L352.16,71.71 L352.34,66.35 L352.52,60.67 L352.70,55.45 L352.88,51.59 L353.05,49.28 L353.23,45.54 L353.41,42.90 L353.59,41.62 L353.76,41.34 L353.94,42.39 L354.12,44.93 L354.30,49.12 L354.47,52.79 L354.65,56.88 L354.83,60.99 L355.01,66.77 L355.19,72.33 L355.36,77.17 L355.54,82.25 L355.72,87.80 L355.90,93.46 L356.07,98.19 L356.25,102.22 L356.43,105.62 L356.61,109.14 L356.79,112.02 L356.96,115.79 L357.14,116.89 L357.32,118.63 L357.50,121.09 L357.67,122.13 L357.85,124.06 L358.03,124.69 L358.21,125.45 L358.39,125.86 L358.56,125.75 L358.74,126.12 L358.92,128.25 L359.10,128.71 L359.27,129.07 L359.45,129.58 L359.63,129.76 L359.81,130.21 L359.99,129.84 L360.16,129.74 L360.34,130.42 L360.52,130.14 L360.70,129.51 L360.87,129.83 L361.05,129.89 L361.23,130.61 L361.41,130.33 L361.58,130.03 L361.76,130.32 L361.94,131.55 L362.12,131.39 L362.30,131.45 L362.47,131.44 L362.65,131.62 L362.83,132.10 L363.01,132.66 L363.18,131.32 L363.36,132.26 L363.54,132.05 L363.72,131.79 L363.90,133.17 L364.07,132.53 L364.25,133.37 L364.43,133.31 L364.61,132.20 L364.78,132.44 L364.96,132.73 L365.14,132.43 L365.32,131.07 L365.50,131.43 L365.67,131.72 L365.85,131.39 L366.03,132.84 L366.21,132.51 L366.38,132.26 L366.56,132.18 L366.74,131.89 L366.92,131.74 L367.10,132.14 L367.27,132.50 L367.45,132.25 L367.63,132.35 L367.81,131.70 L367.98,132.40 L368.16,132.09 L368.34,132.46 L368.52,132.05 L368.69,132.05 L368.87,132.46 L369.05,131.90 L369.23,133.62 L369.41,133.20 L369.58,132.95 L369.76,132.45 L369.94,133.46 L370.12,133.90 L370.29,133.55 L370.47,132.44 L370.65,132.30 L370.83,132.84 L371.01,132.52 L371.18,131.97 L371.36,131.66 L371.54,131.72 L371.72,132.18 L371.89,132.06 L372.07,132.36 L372.25,134.03 L372.43,134.39 L372.61,133.02 L372.78,133.02 L372.96,132.86 L373.14,132.63 L373.32,133.13 L373.49,132.61 L373.67,132.30 L373.85,132.06 L374.03,132.03 L374.20,132.70 L374.38,132.71 L374.56,131.44 L374.74,131.10 L374.92,130.53 L375.09,130.89 L375.27,130.49 L375.45,130.31 L375.63,129.30 L375.80,127.30 L375.98,127.02 L376.16,126.29 L376.34,125.66 L376.52,124.09 L376.69,124.00 L376.87,123.79 L377.05,124.13 L377.23,125.41 L377.40,126.63 L377.58,127.07 L377.76,127.23 L377.94,127.22 L378.12,128.51 L378.29,130.35 L378.47,130.87 L378.65,130.07 L378.83,130.49 L379.00,131.50 L379.18,132.81 L379.36,133.30 L379.54,133.16 L379.72,133.03 L379.89,132.30 L380.07,132.25 L380.25,132.31 L380.43,132.13 L380.60,132.50 L380.78,132.47 L380.96,132.87 L381.14,133.71 L381.31,133.80 L381.49,133.68 L381.67,133.26 L381.85,132.34 L382.03,132.61 L382.20,133.13 L382.38,132.57 L382.56,133.51 L382.74,133.16 L382.91,133.36 L383.09,133.09 L383.27,132.44 L383.45,133.91 L383.63,132.95 L383.80,133.57 L383.98,133.10 L384.16,133.31 L384.34,132.83 L384.51,132.78 L384.69,133.49 L384.87,134.45 L385.05,133.44 L385.23,133.36 L385.40,133.84 L385.58,133.23 L385.76,133.64 L385.94,133.04 L386.11,133.48 L386.29,133.63 L386.47,134.14 L386.65,133.96 L386.83,133.00 L387.00,133.50 L387.18,132.80 L387.36,133.44 L387.54,134.21 L387.71,134.13 L387.89,133.45 L388.07,134.04 L388.25,133.80 L388.43,132.90 L388.60,132.89 L388.78,133.86 L388.96,133.45 L389.14,133.45 L389.31,133.20 L389.49,132.33 L389.67,132.49 L389.85,133.06 L390.02,133.29 L390.20,133.21 L390.38,132.08 L390.56,133.31 L390.74,133.71 L390.91,134.10 L391.09,134.46 L391.27,133.71 L391.45,133.20 L391.62,133.43 L391.80,134.30 L391.98,132.93 L392.16,132.98 L392.34,132.74 L392.51,133.31 L392.69,134.12 L392.87,133.60 L393.05,132.79 L393.22,133.05 L393.40,133.01 L393.58,132.30 L393.76,133.24 L393.94,132.99 L394.11,133.51 L394.29,132.69 L394.47,133.57 L394.65,132.66 L394.82,133.53 L395.00,132.43 L395.18,133.58 L395.36,133.25 L395.53,132.41 L395.71,132.68 L395.89,133.14 L396.07,132.66 L396.25,132.67 L396.42,133.10 L396.60,133.09 L396.78,131.49 L396.96,132.06 L397.13,132.84 L397.31,133.19 L397.49,133.78 L397.67,133.17 L397.85,134.61 L398.02,134.44 L398.20,134.08 L398.38,134.30 L398.56,134.35 L398.73,133.90 L398.91,133.26 L399.09,133.81 L399.27,133.77 L399.45,132.48 L399.62,132.20 L399.80,132.91 L399.98,133.10 L400.16,133.29 L400.33,133.59 L400.51,133.48 L400.69,134.21 L400.87,133.41 L401.05,133.07 L401.22,133.28 L401.40,133.62 L401.58,133.83 L401.76,134.32 L401.93,133.51 L402.11,133.96 L402.29,133.82 L402.47,132.91 L402.64,132.90 L402.82,134.11 L403.00,134.05 L403.18,133.32 L403.36,131.85 L403.53,131.95 L403.71,132.02 L403.89,132.47 L404.07,133.94 L404.24,133.88 L404.42,133.60 L404.60,132.75 L404.78,132.13 L404.96,132.31 L405.13,132.26 L405.31,134.12 L405.49,133.26 L405.67,132.65 L405.84,133.26 L406.02,133.00 L406.20,132.11 L406.38,132.99 L406.56,132.57 L406.73,131.75 L406.91,132.18 L407.09,132.48 L407.27,132.16 L407.44,132.52 L407.62,132.74 L407.80,131.88 L407.98,130.72 L408.16,129.84 L408.33,130.55 L408.51,131.62 L408.69,132.01 L408.87,132.35 L409.04,132.71 L409.22,131.79 L409.40,131.73 L409.58,130.15 L409.75,130.34 L409.93,130.10 L410.11,129.49 L410.29,128.71 L410.47,127.62 L410.64,127.35 L410.82,127.40 L411.00,125.99 L411.18,125.02 L411.35,122.95 L411.53,121.10 L411.71,117.69 L411.89,114.14 L412.07,108.38 L412.24,100.65 L412.42,89.38 L412.60,74.63 L412.78,57.49 L412.95,39.67 L413.13,24.77 L413.31,17.80 L413.49,24.42 L413.67,40.22 L413.84,58.75 L414.02,74.93 L414.20,89.56 L414.38,99.98 L414.55,108.87 L414.73,114.83 L414.91,118.89 L415.09,120.02 L415.27,122.89 L415.44,124.93 L415.62,125.32 L415.80,127.08 L415.98,127.81 L416.15,128.30 L416.33,128.46 L416.51,128.55 L416.69,129.06 L416.87,131.41 L417.04,131.22 L417.22,131.21 L417.40,130.83 L417.58,130.71 L417.75,130.74 L417.93,130.64 L418.11,131.61 L418.29,131.56 L418.46,132.20 L418.64,131.48 L418.82,132.27 L419.00,132.21 L419.18,132.60 L419.35,132.41 L419.53,131.90 L419.71,132.80 L419.89,132.41 L420.06,132.38 L420.24,131.97 L420.42,132.36 L420.60,132.27 L420.78,132.60 L420.95,132.83 L421.13,132.41 L421.31,131.78 L421.49,132.47 L421.66,133.12 L421.84,133.37 L422.02,132.50 L422.20,133.00 L422.38,133.16 L422.55,133.20 L422.73,133.31 L422.91,132.96 L423.09,133.07 L423.26,133.53 L423.44,133.00 L423.62,132.20 L423.80,132.50 L423.98,132.83 L424.15,131.90 L424.33,132.03 L424.51,132.81 L424.69,132.83 L424.86,132.98 L425.04,132.32 L425.22,133.15 L425.40,134.08 L425.57,133.51 L425.75,132.91 L425.93,132.35 L426.11,133.17 L426.29,133.19 L426.46,132.71 L426.64,133.55 L426.82,133.77 L427.00,133.80 L427.17,132.52 L427.35,132.72 L427.53,133.24 L427.71,132.50 L427.89,133.29 L428.06,133.99 L428.24,134.16 L428.42,133.29 L428.60,132.81 L428.77,133.46 L428.95,133.84 L429.13,134.18 L429.31,134.35 L429.49,133.73 L429.66,133.21 L429.84,132.13 L430.02,132.98 L430.20,134.27 L430.37,133.47 L430.55,133.01 L430.73,133.38 L430.91,133.42 L431.08,132.48 L431.26,132.32 L431.44,132.01 L431.62,133.54 L431.80,132.87 L431.97,133.35 L432.15,134.19 L432.33,134.62 L432.51,134.58 L432.68,134.65 L432.86,133.09 L433.04,132.69 L433.22,132.23 L433.40,132.18 L433.57,133.71 L433.75,132.13 L433.93,132.44 L434.11,131.56 L434.28,132.43 L434.46,132.80 L434.64,131.93 L434.82,132.78 L435.00,132.06 L435.17,132.24 L435.35,131.70 L435.53,130.83 L435.71,130.37 L435.88,130.20 L436.06,130.47 L436.24,130.34 L436.42,131.51 L436.60,130.80 L436.77,130.33 L436.95,130.01 L437.13,129.91 L437.31,129.58 L437.48,129.75 L437.66,131.12 L437.84,131.56 L438.02,131.82 L438.19,132.39 L438.37,133.23 L438.55,133.57 L438.73,133.96 L438.91,133.55 L439.08,133.59 L439.26,133.43 L439.44,133.81 L439.62,133.72 L439.79,134.00 L439.97,134.34 L440.15,134.59 L440.33,134.78 L440.51,134.83 L440.68,135.93 L440.86,135.70 L441.04,135.27 L441.22,135.78 L441.39,135.42 L441.57,135.30 L441.75,135.94" fill="none" stroke="#2a2a2a" stroke-width="0.9"/>
<rect x="263.7" y="7.5" width="177.5" height="147.7" fill="none" stroke="#444" stroke-width="0.9"/>
<line x1="264.00" y1="155.2" x2="264.00" y2="153.0" stroke="#444" stroke-width="0.7"/>
<text x="264.00" y="166.00" font-family="'Liberation Sans', Arial, sans-serif" font-size="7.2" fill="#222" text-anchor="middle" font-weight="normal" font-style="normal" textLength="9.50" lengthAdjust="spacingAndGlyphs" stroke="#222" stroke-width="0.28">100</text>
<line x1="281.77" y1="155.2" x2="281.77" y2="153.89999999999998" stroke="#444" stroke-width="0.7"/>
<line x1="299.55" y1="155.2" x2="299.55" y2="153.0" stroke="#444" stroke-width="0.7"/>
<text x="299.55" y="166.00" font-family="'Liberation Sans', Arial, sans-serif" font-size="7.2" fill="#222" text-anchor="middle" font-weight="normal" font-style="normal" textLength="9.50" lengthAdjust="spacingAndGlyphs" stroke="#222" stroke-width="0.28">200</text>
<line x1="317.32" y1="155.2" x2="317.32" y2="153.89999999999998" stroke="#444" stroke-width="0.7"/>
<line x1="335.10" y1="155.2" x2="335.10" y2="153.0" stroke="#444" stroke-width="0.7"/>
<text x="335.10" y="166.00" font-family="'Liberation Sans', Arial, sans-serif" font-size="7.2" fill="#222" text-anchor="middle" font-weight="normal" font-style="normal" textLength="9.50" lengthAdjust="spacingAndGlyphs" stroke="#222" stroke-width="0.28">300</text>
<line x1="352.88" y1="155.2" x2="352.88" y2="153.89999999999998" stroke="#444" stroke-width="0.7"/>
<line x1="370.65" y1="155.2" x2="370.65" y2="153.0" stroke="#444" stroke-width="0.7"/>
<text x="370.65" y="166.00" font-family="'Liberation Sans', Arial, sans-serif" font-size="7.2" fill="#222" text-anchor="middle" font-weight="normal" font-style="normal" textLength="9.50" lengthAdjust="spacingAndGlyphs" stroke="#222" stroke-width="0.28">400</text>
<line x1="388.43" y1="155.2" x2="388.43" y2="153.89999999999998" stroke="#444" stroke-width="0.7"/>
<line x1="406.20" y1="155.2" x2="406.20" y2="153.0" stroke="#444" stroke-width="0.7"/>
<text x="406.20" y="166.00" font-family="'Liberation Sans', Arial, sans-serif" font-size="7.2" fill="#222" text-anchor="middle" font-weight="normal" font-style="normal" textLength="9.50" lengthAdjust="spacingAndGlyphs" stroke="#222" stroke-width="0.28">500</text>
<line x1="423.98" y1="155.2" x2="423.98" y2="153.89999999999998" stroke="#444" stroke-width="0.7"/>
<line x1="441.75" y1="155.2" x2="441.75" y2="153.0" stroke="#444" stroke-width="0.7"/>
<text x="441.75" y="166.00" font-family="'Liberation Sans', Arial, sans-serif" font-size="7.2" fill="#222" text-anchor="middle" font-weight="normal" font-style="normal" textLength="9.50" lengthAdjust="spacingAndGlyphs" stroke="#222" stroke-width="0.28">600</text>
<line x1="263.7" y1="44.2" x2="265.3" y2="44.2" stroke="#444" stroke-width="0.6"/>
<line x1="263.7" y1="62.2" x2="265.3" y2="62.2" stroke="#444" stroke-width="0.6"/>
<line x1="263.7" y1="80.2" x2="265.3" y2="80.2" stroke="#444" stroke-width="0.6"/>
<line x1="263.7" y1="98.2" x2="265.3" y2="98.2" stroke="#444" stroke-width="0.6"/>
<line x1="263.7" y1="116.2" x2="265.3" y2="116.2" stroke="#444" stroke-width="0.6"/>
<line x1="263.7" y1="134.2" x2="265.3" y2="134.2" stroke="#444" stroke-width="0.6"/>
<line x1="263.7" y1="152.2" x2="265.3" y2="152.2" stroke="#444" stroke-width="0.6"/>
<text x="327.30" y="181.80" font-family="'Liberation Sans', Arial, sans-serif" font-size="8.2" fill="#222" text-anchor="start" font-weight="normal" font-style="normal" textLength="44.50" lengthAdjust="spacingAndGlyphs" stroke="#222" stroke-width="0.28">Raman shift (cm</text>
<text x="371.80" y="177.50" font-family="'Liberation Sans', Arial, sans-serif" font-size="4.5" fill="#222" text-anchor="start" font-weight="normal" font-style="normal" textLength="3.50" lengthAdjust="spacingAndGlyphs" stroke="#222" stroke-width="0.28">-1</text>
<text x="376.00" y="181.80" font-family="'Liberation Sans', Arial, sans-serif" font-size="8.2" fill="#222" text-anchor="start" font-weight="normal" font-style="normal" stroke="#222" stroke-width="0.28">)</text>
<text transform="translate(253.6,116.2) rotate(-90)" font-family="'Liberation Sans', Arial, sans-serif" font-size="9" fill="#222" textLength="69.5" lengthAdjust="spacingAndGlyphs">Intensity (a.u.)</text>
<rect x="263.7" y="7.5" width="62.2" height="29.8" fill="#fff" stroke="#666" stroke-width="0.7"/>
<line x1="269.4" y1="14.4" x2="281.5" y2="14.4" stroke="#333" stroke-width="1.1"/>
<line x1="269.4" y1="22.5" x2="281.5" y2="22.5" stroke="#d04858" stroke-width="1.1"/>
<text x="282.90" y="16.50" font-family="'Liberation Sans', Arial, sans-serif" font-size="6.5" fill="#222" text-anchor="start" font-weight="normal" font-style="normal" textLength="39.00" lengthAdjust="spacingAndGlyphs" stroke="#222" stroke-width="0.28">1.3ML WS<tspan font-size="4.5" dy="0.8">2</tspan><tspan dy="-0.8"> layer</tspan></text>
<text x="282.90" y="25.30" font-family="'Liberation Sans', Arial, sans-serif" font-size="6.5" fill="#222" text-anchor="start" font-weight="normal" font-style="normal" textLength="38.60" lengthAdjust="spacingAndGlyphs" stroke="#222" stroke-width="0.28">Lorentzian fitting</text>
<text x="282.90" y="35.30" font-family="'Liberation Sans', Arial, sans-serif" font-size="6.5" fill="#222" text-anchor="start" font-weight="normal" font-style="normal" textLength="27.00" lengthAdjust="spacingAndGlyphs" stroke="#222" stroke-width="0.28">&#955;<tspan font-size="3.8" dy="0.8">exc</tspan><tspan dy="-0.8">=532nm</tspan></text>
<text x="342.60" y="35.90" font-family="'Liberation Sans', Arial, sans-serif" font-size="7.8" fill="#222" text-anchor="start" font-weight="normal" font-style="italic" textLength="22.20" lengthAdjust="spacingAndGlyphs" stroke="#222" stroke-width="0.28">2LA(M)</text>
<text x="348.20" y="43.50" font-family="'Liberation Sans', Arial, sans-serif" font-size="6.6" fill="#222" text-anchor="start" font-weight="normal" font-style="normal" textLength="9.00" lengthAdjust="spacingAndGlyphs" stroke="#222" stroke-width="0.28">352</text>
<text x="357.90" y="70.60" font-family="'Liberation Sans', Arial, sans-serif" font-size="8.6" fill="#222" text-anchor="start" font-weight="normal" font-style="italic" textLength="4.80" lengthAdjust="spacingAndGlyphs" stroke="#222" stroke-width="0.28">E</text>
<text x="362.60" y="63.20" font-family="'Liberation Sans', Arial, sans-serif" font-size="4.6" fill="#222" text-anchor="start" font-weight="normal" font-style="italic" stroke="#222" stroke-width="0.28">I</text>
<text x="360.80" y="74.40" font-family="'Liberation Sans', Arial, sans-serif" font-size="4.6" fill="#222" text-anchor="start" font-weight="normal" font-style="italic" textLength="3.90" lengthAdjust="spacingAndGlyphs" stroke="#222" stroke-width="0.28">2g</text>
<text x="365.00" y="70.60" font-family="'Liberation Sans', Arial, sans-serif" font-size="8.6" fill="#222" text-anchor="start" font-weight="normal" font-style="italic" textLength="8.80" lengthAdjust="spacingAndGlyphs" stroke="#222" stroke-width="0.28">(&#915;)</text>
<text x="357.90" y="83.00" font-family="'Liberation Sans', Arial, sans-serif" font-size="6.6" fill="#222" text-anchor="start" font-weight="normal" font-style="normal" textLength="11.00" lengthAdjust="spacingAndGlyphs" stroke="#222" stroke-width="0.28">355.2</text>
<text x="339.00" y="114.60" font-family="'Liberation Sans', Arial, sans-serif" font-size="6.6" fill="#222" text-anchor="start" font-weight="normal" font-style="normal" textLength="8.10" lengthAdjust="spacingAndGlyphs" stroke="#222" stroke-width="0.28">324</text>
<text x="368.40" y="108.80" font-family="'Liberation Sans', Arial, sans-serif" font-size="8.0" fill="#222" text-anchor="start" font-weight="normal" font-style="italic" stroke="#222" stroke-width="0.28">A</text>
<text x="373.20" y="111.60" font-family="'Liberation Sans', Arial, sans-serif" font-size="4.6" fill="#222" text-anchor="start" font-weight="normal" font-style="italic" stroke="#222" stroke-width="0.28">1g</text>
<text x="377.10" y="108.80" font-family="'Liberation Sans', Arial, sans-serif" font-size="8.0" fill="#222" text-anchor="start" font-weight="normal" font-style="italic" textLength="8.60" lengthAdjust="spacingAndGlyphs" stroke="#222" stroke-width="0.28">(&#915;)</text>
<text x="370.80" y="121.00" font-family="'Liberation Sans', Arial, sans-serif" font-size="6.6" fill="#222" text-anchor="start" font-weight="normal" font-style="normal" textLength="13.80" lengthAdjust="spacingAndGlyphs" stroke="#222" stroke-width="0.28">417.2</text>
<text x="401.20" y="15.40" font-family="'Liberation Sans', Arial, sans-serif" font-size="8.8" fill="#222" text-anchor="start" font-weight="normal" font-style="italic" textLength="5.50" lengthAdjust="spacingAndGlyphs" stroke="#222" stroke-width="0.28">Si</text>
<text x="408.00" y="15.40" font-family="'Liberation Sans', Arial, sans-serif" font-size="6.4" fill="#222" text-anchor="start" font-weight="normal" font-style="normal" textLength="9.30" lengthAdjust="spacingAndGlyphs" stroke="#222" stroke-width="0.28">520</text>
<text x="72.60" y="224.60" font-family="'Liberation Serif', 'Times New Roman', serif" font-size="18" fill="#111" text-anchor="start" font-weight="bold" font-style="normal">(c)</text>
<text x="35.60" y="236.70" font-family="'Liberation Sans', Arial, sans-serif" font-size="10.5" fill="#333" text-anchor="start" font-weight="normal" font-style="normal" textLength="2.40" lengthAdjust="spacingAndGlyphs" stroke="#333" stroke-width="0.28">1</text>
<text x="39.80" y="233.80" font-family="'Liberation Sans', Arial, sans-serif" font-size="5.2" fill="#333" text-anchor="start" font-weight="normal" font-style="normal" textLength="5.00" lengthAdjust="spacingAndGlyphs" stroke="#333" stroke-width="0.28">st</text>
<text x="48.00" y="236.70" font-family="'Liberation Sans', Arial, sans-serif" font-size="10.5" fill="#333" text-anchor="start" font-weight="normal" font-style="normal" textLength="20.20" lengthAdjust="spacingAndGlyphs" stroke="#333" stroke-width="0.28">layer</text>
<rect x="73.05" y="350.28" width="20.4" height="45.52" fill="#fbc98e" stroke="#857560" stroke-width="0.9"/>
<rect x="97.95" y="271.10" width="20.4" height="124.70" fill="#fbc98e" stroke="#857560" stroke-width="0.9"/>
<rect x="122.85" y="332.28" width="20.4" height="63.52" fill="#fbc98e" stroke="#857560" stroke-width="0.9"/>
<rect x="147.75" y="375.34" width="20.4" height="20.46" fill="#fbc98e" stroke="#857560" stroke-width="0.9"/>
<rect x="172.65" y="391.07" width="20.4" height="4.73" fill="#fbc98e" stroke="#857560" stroke-width="0.9"/>
<path d="M82.85,347.88 L83.47,345.89 L84.09,343.86 L84.72,341.78 L85.34,339.67 L85.96,337.52 L86.59,335.34 L87.21,333.12 L87.83,330.89 L88.45,328.63 L89.08,326.35 L89.70,324.05 L90.32,321.75 L90.94,319.44 L91.57,317.12 L92.19,314.81 L92.81,312.51 L93.43,310.22 L94.06,307.95 L94.68,305.70 L95.30,303.48 L95.92,301.29 L96.55,299.14 L97.17,297.03 L97.79,294.97 L98.41,292.97 L99.04,291.02 L99.66,289.14 L100.28,287.33 L100.90,285.60 L101.53,283.94 L102.15,282.36 L102.77,280.88 L103.39,279.48 L104.02,278.18 L104.64,276.98 L105.26,275.89 L105.88,274.90 L106.51,274.02 L107.13,273.25 L107.75,272.60 L108.37,272.06 L109.00,271.64 L109.62,271.34 L110.24,271.16 L110.86,271.10 L111.49,271.16 L112.11,271.34 L112.73,271.64 L113.35,272.06 L113.98,272.60 L114.60,273.25 L115.22,274.02 L115.84,274.90 L116.47,275.89 L117.09,276.98 L117.71,278.18 L118.33,279.48 L118.96,280.88 L119.58,282.36 L120.20,283.94 L120.82,285.60 L121.45,287.33 L122.07,289.14 L122.69,291.02 L123.31,292.97 L123.94,294.97 L124.56,297.03 L125.18,299.14 L125.80,301.29 L126.43,303.48 L127.05,305.70 L127.67,307.95 L128.29,310.22 L128.92,312.51 L129.54,314.81 L130.16,317.12 L130.78,319.44 L131.41,321.75 L132.03,324.05 L132.65,326.35 L133.27,328.63 L133.90,330.89 L134.52,333.12 L135.14,335.34 L135.76,337.52 L136.38,339.67 L137.01,341.78 L137.63,343.86 L138.25,345.89 L138.88,347.88 L139.50,349.83 L140.12,351.73 L140.74,353.58 L141.37,355.39 L141.99,357.14 L142.61,358.84 L143.23,360.48 L143.86,362.08 L144.48,363.62 L145.10,365.10 L145.72,366.54 L146.35,367.92 L146.97,369.24 L147.59,370.51 L148.21,371.73 L148.84,372.90 L149.46,374.02 L150.08,375.09 L150.70,376.10 L151.33,377.07 L151.95,377.99 L152.57,378.87 L153.19,379.70 L153.81,380.49 L154.44,381.24 L155.06,381.95 L155.68,382.61 L156.31,383.24 L156.93,383.84 L157.55,384.39 L158.17,384.92 L158.80,385.41 L159.42,385.87 L160.04,386.31 L160.66,386.71 L161.29,387.09 L161.91,387.44 L162.53,387.77 L163.15,388.08 L163.78,388.37 L164.40,388.63 L165.02,388.88 L165.64,389.11 L166.27,389.32 L166.89,389.51 L167.51,389.69 L168.13,389.86 L168.75,390.02 L169.38,390.16 L170.00,390.29 L170.62,390.41 L171.25,390.52 L171.87,390.62 L172.49,390.71 L173.11,390.79 L173.74,390.87 L174.36,390.94 L174.98,391.01 L175.60,391.07 L176.23,391.12 L176.85,391.17 L177.47,391.21 L178.09,391.25 L178.72,391.29 L179.34,391.32 L179.96,391.35 L180.58,391.38 L181.21,391.40 L181.83,391.42 L182.45,391.44 L183.07,391.46 L183.70,391.47 L184.32,391.49 L184.94,391.50 L185.56,391.51 L186.19,391.52 L186.81,391.53 L187.43,391.54 L188.05,391.55 L188.68,391.55 L189.30,391.56 L189.92,391.56 L190.54,391.57 L191.17,391.57 L191.79,391.58 L192.41,391.58 L193.03,391.58 L193.66,391.58 L194.28,391.59 L194.90,391.59 L195.52,391.59 L196.15,391.59 L196.77,391.59 L197.39,391.59 L198.01,391.59 L198.64,391.60 L199.26,391.60 L199.88,391.60 L200.50,391.60 L201.13,391.60 L201.75,391.60 L202.37,391.60 L202.99,391.60 L203.62,391.60 L204.24,391.60 L204.86,391.60 L205.48,391.60 L206.11,391.60 L206.73,391.60 L207.35,391.60 L207.97,391.60 L208.60,391.60 L209.22,391.60 L209.84,391.60 L210.46,391.60 L211.09,391.60 L211.71,391.60 L212.33,391.60 L212.95,391.60 L213.58,391.60 L214.20,391.60 L214.82,391.60 L215.44,391.60 L216.07,391.60 L216.69,391.60 L217.31,391.60 L217.93,391.60 L218.56,391.60 L219.18,391.60 L219.80,391.60 L220.42,391.60 L221.05,391.60 L221.67,391.60 L222.29,391.60 L222.91,391.60 L223.54,391.60 L224.16,391.60 L224.78,391.60 L225.40,391.60 L226.03,391.60 L226.65,391.60 L227.27,391.60 L227.89,391.60 L228.52,391.60 L229.14,391.60 L229.76,391.60 L230.38,391.60 L231.01,391.60 L231.63,391.60 L232.25,391.60" fill="none" stroke="#d42a2a" stroke-width="1.3"/>
<rect x="70.4" y="249.5" width="175.7" height="146.3" fill="none" stroke="#555" stroke-width="1.1"/>
<line x1="68.10000000000001" y1="395.60" x2="70.4" y2="395.60" stroke="#555" stroke-width="0.8"/>
<text x="64.80" y="398.50" font-family="'Liberation Sans', Arial, sans-serif" font-size="8.1" fill="#333" text-anchor="end" font-weight="normal" font-style="normal" stroke="#333" stroke-width="0.28">0</text>
<line x1="69.10000000000001" y1="382.27" x2="70.4" y2="382.27" stroke="#555" stroke-width="0.8"/>
<line x1="68.10000000000001" y1="368.94" x2="70.4" y2="368.94" stroke="#555" stroke-width="0.8"/>
<text x="64.80" y="371.84" font-family="'Liberation Sans', Arial, sans-serif" font-size="8.1" fill="#333" text-anchor="end" font-weight="normal" font-style="normal" stroke="#333" stroke-width="0.28">200</text>
<line x1="69.10000000000001" y1="355.61" x2="70.4" y2="355.61" stroke="#555" stroke-width="0.8"/>
<line x1="68.10000000000001" y1="342.28" x2="70.4" y2="342.28" stroke="#555" stroke-width="0.8"/>
<text x="64.80" y="345.18" font-family="'Liberation Sans', Arial, sans-serif" font-size="8.1" fill="#333" text-anchor="end" font-weight="normal" font-style="normal" stroke="#333" stroke-width="0.28">400</text>
<line x1="69.10000000000001" y1="328.95" x2="70.4" y2="328.95" stroke="#555" stroke-width="0.8"/>
<line x1="68.10000000000001" y1="315.62" x2="70.4" y2="315.62" stroke="#555" stroke-width="0.8"/>
<text x="64.80" y="318.52" font-family="'Liberation Sans', Arial, sans-serif" font-size="8.1" fill="#333" text-anchor="end" font-weight="normal" font-style="normal" stroke="#333" stroke-width="0.28">600</text>
<line x1="69.10000000000001" y1="302.29" x2="70.4" y2="302.29" stroke="#555" stroke-width="0.8"/>
<line x1="68.10000000000001" y1="288.96" x2="70.4" y2="288.96" stroke="#555" stroke-width="0.8"/>
<text x="64.80" y="291.86" font-family="'Liberation Sans', Arial, sans-serif" font-size="8.1" fill="#333" text-anchor="end" font-weight="normal" font-style="normal" stroke="#333" stroke-width="0.28">800</text>
<line x1="69.10000000000001" y1="275.63" x2="70.4" y2="275.63" stroke="#555" stroke-width="0.8"/>
<line x1="68.10000000000001" y1="262.30" x2="70.4" y2="262.30" stroke="#555" stroke-width="0.8"/>
<text x="64.80" y="265.20" font-family="'Liberation Sans', Arial, sans-serif" font-size="8.1" fill="#333" text-anchor="end" font-weight="normal" font-style="normal" stroke="#333" stroke-width="0.28">1000</text>
<line x1="70.40" y1="395.8" x2="70.40" y2="398.1" stroke="#555" stroke-width="0.8"/>
<text x="70.40" y="407.30" font-family="'Liberation Sans', Arial, sans-serif" font-size="8.4" fill="#333" text-anchor="middle" font-weight="normal" font-style="normal" stroke="#333" stroke-width="0.28">0</text>
<line x1="85.96" y1="395.8" x2="85.96" y2="397.1" stroke="#555" stroke-width="0.8"/>
<line x1="101.53" y1="395.8" x2="101.53" y2="398.1" stroke="#555" stroke-width="0.8"/>
<text x="101.53" y="407.30" font-family="'Liberation Sans', Arial, sans-serif" font-size="8.4" fill="#333" text-anchor="middle" font-weight="normal" font-style="normal" stroke="#333" stroke-width="0.28">50</text>
<line x1="117.09" y1="395.8" x2="117.09" y2="397.1" stroke="#555" stroke-width="0.8"/>
<line x1="132.65" y1="395.8" x2="132.65" y2="398.1" stroke="#555" stroke-width="0.8"/>
<text x="132.65" y="407.30" font-family="'Liberation Sans', Arial, sans-serif" font-size="8.4" fill="#333" text-anchor="middle" font-weight="normal" font-style="normal" stroke="#333" stroke-width="0.28">100</text>
<line x1="148.21" y1="395.8" x2="148.21" y2="397.1" stroke="#555" stroke-width="0.8"/>
<line x1="163.78" y1="395.8" x2="163.78" y2="398.1" stroke="#555" stroke-width="0.8"/>
<text x="163.78" y="407.30" font-family="'Liberation Sans', Arial, sans-serif" font-size="8.4" fill="#333" text-anchor="middle" font-weight="normal" font-style="normal" stroke="#333" stroke-width="0.28">150</text>
<line x1="179.34" y1="395.8" x2="179.34" y2="397.1" stroke="#555" stroke-width="0.8"/>
<line x1="194.90" y1="395.8" x2="194.90" y2="398.1" stroke="#555" stroke-width="0.8"/>
<text x="194.90" y="407.30" font-family="'Liberation Sans', Arial, sans-serif" font-size="8.4" fill="#333" text-anchor="middle" font-weight="normal" font-style="normal" stroke="#333" stroke-width="0.28">200</text>
<line x1="210.46" y1="395.8" x2="210.46" y2="397.1" stroke="#555" stroke-width="0.8"/>
<line x1="226.03" y1="395.8" x2="226.03" y2="398.1" stroke="#555" stroke-width="0.8"/>
<text x="226.03" y="407.30" font-family="'Liberation Sans', Arial, sans-serif" font-size="8.4" fill="#333" text-anchor="middle" font-weight="normal" font-style="normal" stroke="#333" stroke-width="0.28">250</text>
<text x="124.50" y="423.70" font-family="'Liberation Sans', Arial, sans-serif" font-size="10.3" fill="#222" text-anchor="start" font-weight="normal" font-style="normal" textLength="67.50" lengthAdjust="spacingAndGlyphs" stroke="#222" stroke-width="0.28">Grain size(nm)</text>
<text transform="translate(43.1,344.7) rotate(-90)" font-family="'Liberation Sans', Arial, sans-serif" font-size="10.2" fill="#222" textLength="45" lengthAdjust="spacingAndGlyphs">Counts(#)</text>
<rect x="161.5" y="252.4" width="76.6" height="19.8" fill="#fff" stroke="#bbb" stroke-width="0.7"/>
<rect x="162.6" y="254.8" width="16.4" height="7.2" fill="#fbc98e" stroke="#857560" stroke-width="0.8"/>
<line x1="162.4" y1="267.0" x2="179.0" y2="267.0" stroke="#d42a2a" stroke-width="1.2"/>
<text x="181.40" y="261.50" font-family="'Liberation Sans', Arial, sans-serif" font-size="8.6" fill="#222" text-anchor="start" font-weight="normal" font-style="normal" textLength="55.30" lengthAdjust="spacingAndGlyphs" stroke="#222" stroke-width="0.28">Frquency Counts</text>
<text x="181.40" y="270.50" font-family="'Liberation Sans', Arial, sans-serif" font-size="8.6" fill="#222" text-anchor="start" font-weight="normal" font-style="normal" textLength="42.30" lengthAdjust="spacingAndGlyphs" stroke="#222" stroke-width="0.28">Gauss Fitting</text>
<rect x="169.5" y="275.7" width="68.9" height="50.69999999999999" fill="#fff" stroke="#bbb" stroke-width="0.6"/>
<line x1="196.8" y1="275.7" x2="196.8" y2="326.4" stroke="#ccc" stroke-width="0.5"/>
<line x1="169.5" y1="280.31" x2="238.4" y2="280.31" stroke="#ddd" stroke-width="0.4"/>
<text x="170.70" y="279.00" font-family="'Liberation Sans', Arial, sans-serif" font-size="2.9" fill="#888" text-anchor="start" font-weight="normal" font-style="normal">Model</text>
<text x="217.60" y="279.00" font-family="'Liberation Sans', Arial, sans-serif" font-size="2.9" fill="#888" text-anchor="middle" font-weight="normal" font-style="normal">Gauss</text>
<line x1="169.5" y1="289.53" x2="238.4" y2="289.53" stroke="#ddd" stroke-width="0.4"/>
<text x="170.70" y="285.92" font-family="'Liberation Sans', Arial, sans-serif" font-size="2.9" fill="#888" text-anchor="start" font-weight="normal" font-style="normal">Equation</text>
<text x="217.60" y="284.62" font-family="'Liberation Sans', Arial, sans-serif" font-size="2.6" fill="#888" text-anchor="middle" font-weight="normal" font-style="normal">y=y0 + (A/(w*sqrt(PI/2)))*exp(-2</text>
<text x="217.60" y="287.52" font-family="'Liberation Sans', Arial, sans-serif" font-size="2.6" fill="#888" text-anchor="middle" font-weight="normal" font-style="normal">*((x-xc)/w)^2)</text>
<line x1="169.5" y1="294.14" x2="238.4" y2="294.14" stroke="#ddd" stroke-width="0.4"/>
<text x="170.70" y="292.83" font-family="'Liberation Sans', Arial, sans-serif" font-size="2.9" fill="#888" text-anchor="start" font-weight="normal" font-style="normal">Plot</text>
<text x="217.60" y="292.83" font-family="'Liberation Sans', Arial, sans-serif" font-size="2.9" fill="#888" text-anchor="middle" font-weight="normal" font-style="normal">Count</text>
<line x1="169.5" y1="298.75" x2="238.4" y2="298.75" stroke="#ddd" stroke-width="0.4"/>
<text x="170.70" y="297.44" font-family="'Liberation Sans', Arial, sans-serif" font-size="2.9" fill="#888" text-anchor="start" font-weight="normal" font-style="normal">y0</text>
<text x="217.60" y="297.44" font-family="'Liberation Sans', Arial, sans-serif" font-size="2.9" fill="#888" text-anchor="middle" font-weight="normal" font-style="normal">32.90671 &#177; 26.49891</text>
<line x1="169.5" y1="303.35" x2="238.4" y2="303.35" stroke="#ddd" stroke-width="0.4"/>
<text x="170.70" y="302.05" font-family="'Liberation Sans', Arial, sans-serif" font-size="2.9" fill="#888" text-anchor="start" font-weight="normal" font-style="normal">xc</text>
<text x="217.60" y="302.05" font-family="'Liberation Sans', Arial, sans-serif" font-size="2.9" fill="#888" text-anchor="middle" font-weight="normal" font-style="normal">64.4607 &#177; 2.25118</text>
<line x1="169.5" y1="307.96" x2="238.4" y2="307.96" stroke="#ddd" stroke-width="0.4"/>
<text x="170.70" y="306.66" font-family="'Liberation Sans', Arial, sans-serif" font-size="2.9" fill="#888" text-anchor="start" font-weight="normal" font-style="normal">w</text>
<text x="217.60" y="306.66" font-family="'Liberation Sans', Arial, sans-serif" font-size="2.9" fill="#888" text-anchor="middle" font-weight="normal" font-style="normal">61.61281 &#177; 6.38294</text>
<line x1="169.5" y1="312.57" x2="238.4" y2="312.57" stroke="#ddd" stroke-width="0.4"/>
<text x="170.70" y="311.27" font-family="'Liberation Sans', Arial, sans-serif" font-size="2.9" fill="#888" text-anchor="start" font-weight="normal" font-style="normal">A</text>
<text x="217.60" y="311.27" font-family="'Liberation Sans', Arial, sans-serif" font-size="2.9" fill="#888" text-anchor="middle" font-weight="normal" font-style="normal">99835.45478 &#177; 9293.215</text>
<line x1="169.5" y1="317.18" x2="238.4" y2="317.18" stroke="#ddd" stroke-width="0.4"/>
<text x="170.70" y="315.88" font-family="'Liberation Sans', Arial, sans-serif" font-size="2.9" fill="#888" text-anchor="start" font-weight="normal" font-style="normal">Reduced Chi-Sqr</text>
<text x="217.60" y="315.88" font-family="'Liberation Sans', Arial, sans-serif" font-size="2.9" fill="#888" text-anchor="middle" font-weight="normal" font-style="normal">2781.3837</text>
<line x1="169.5" y1="321.79" x2="238.4" y2="321.79" stroke="#ddd" stroke-width="0.4"/>
<text x="170.70" y="320.49" font-family="'Liberation Sans', Arial, sans-serif" font-size="2.9" fill="#888" text-anchor="start" font-weight="normal" font-style="normal">R-Square (COD)</text>
<text x="217.60" y="320.49" font-family="'Liberation Sans', Arial, sans-serif" font-size="2.9" fill="#888" text-anchor="middle" font-weight="normal" font-style="normal">0.98813</text>
<text x="170.70" y="325.10" font-family="'Liberation Sans', Arial, sans-serif" font-size="2.9" fill="#888" text-anchor="start" font-weight="normal" font-style="normal">Adj. R-Square</text>
<text x="217.60" y="325.10" font-family="'Liberation Sans', Arial, sans-serif" font-size="2.9" fill="#888" text-anchor="middle" font-weight="normal" font-style="normal">0.97625</text>
<path d="M188,334.6 L217.9,334.6 L230,360.1 L217.9,385 L188,385 L176,360.1 Z" fill="#7e2490" stroke="#4a1050" stroke-width="1.0"/>
<line x1="177.5" y1="360.1" x2="228.5" y2="360.1" stroke="#f5a623" stroke-width="2.6"/>
<path d="M198.6,353.5 L198.6,365 M198.6,365 L202,365" stroke="#3a3a3a" stroke-width="0.9" fill="none"/>
<text x="249.40" y="223.80" font-family="'Liberation Serif', 'Times New Roman', serif" font-size="18" fill="#111" text-anchor="start" font-weight="bold" font-style="normal">(d)</text>
<text x="280.50" y="243.40" font-family="'Liberation Sans', Arial, sans-serif" font-size="10.8" fill="#333" text-anchor="start" font-weight="normal" font-style="normal" textLength="4.60" lengthAdjust="spacingAndGlyphs" stroke="#333" stroke-width="0.28">2</text>
<text x="286.20" y="239.60" font-family="'Liberation Sans', Arial, sans-serif" font-size="5.2" fill="#333" text-anchor="start" font-weight="normal" font-style="normal" textLength="7.00" lengthAdjust="spacingAndGlyphs" stroke="#333" stroke-width="0.28">nd</text>
<text x="295.80" y="243.40" font-family="'Liberation Sans', Arial, sans-serif" font-size="10.8" fill="#333" text-anchor="start" font-weight="normal" font-style="normal" textLength="20.70" lengthAdjust="spacingAndGlyphs" stroke="#333" stroke-width="0.28">layer</text>
<rect x="297.93" y="386.04" width="11.3" height="7.26" fill="#fbc98e" stroke="#857560" stroke-width="0.8"/>
<rect x="311.79" y="378.77" width="11.3" height="14.53" fill="#fbc98e" stroke="#857560" stroke-width="0.8"/>
<rect x="325.64" y="327.92" width="11.3" height="65.38" fill="#fbc98e" stroke="#857560" stroke-width="0.8"/>
<rect x="339.50" y="269.80" width="11.3" height="123.50" fill="#fbc98e" stroke="#857560" stroke-width="0.8"/>
<rect x="353.35" y="269.80" width="11.3" height="123.50" fill="#fbc98e" stroke="#857560" stroke-width="0.8"/>
<rect x="367.21" y="291.59" width="11.3" height="101.71" fill="#fbc98e" stroke="#857560" stroke-width="0.8"/>
<rect x="381.06" y="335.18" width="11.3" height="58.12" fill="#fbc98e" stroke="#857560" stroke-width="0.8"/>
<rect x="394.92" y="327.92" width="11.3" height="65.38" fill="#fbc98e" stroke="#857560" stroke-width="0.8"/>
<rect x="408.77" y="364.24" width="11.3" height="29.06" fill="#fbc98e" stroke="#857560" stroke-width="0.8"/>
<rect x="422.63" y="378.77" width="11.3" height="14.53" fill="#fbc98e" stroke="#857560" stroke-width="0.8"/>
<path d="M288.34,393.26 L288.90,393.25 L289.45,393.24 L290.00,393.24 L290.56,393.23 L291.11,393.21 L291.67,393.20 L292.22,393.19 L292.78,393.17 L293.33,393.15 L293.88,393.13 L294.44,393.11 L294.99,393.08 L295.55,393.05 L296.10,393.02 L296.66,392.98 L297.21,392.94 L297.76,392.89 L298.32,392.83 L298.87,392.77 L299.43,392.71 L299.98,392.63 L300.53,392.55 L301.09,392.46 L301.64,392.36 L302.20,392.24 L302.75,392.12 L303.31,391.98 L303.86,391.83 L304.41,391.66 L304.97,391.48 L305.52,391.28 L306.08,391.06 L306.63,390.81 L307.18,390.55 L307.74,390.26 L308.29,389.95 L308.85,389.60 L309.40,389.23 L309.96,388.83 L310.51,388.39 L311.06,387.92 L311.62,387.41 L312.17,386.86 L312.73,386.27 L313.28,385.63 L313.84,384.95 L314.39,384.21 L314.94,383.43 L315.50,382.59 L316.05,381.70 L316.61,380.75 L317.16,379.75 L317.71,378.67 L318.27,377.54 L318.82,376.34 L319.38,375.07 L319.93,373.74 L320.49,372.33 L321.04,370.85 L321.59,369.30 L322.15,367.68 L322.70,365.98 L323.26,364.21 L323.81,362.37 L324.37,360.45 L324.92,358.46 L325.47,356.39 L326.03,354.26 L326.58,352.06 L327.14,349.79 L327.69,347.46 L328.24,345.06 L328.80,342.61 L329.35,340.10 L329.91,337.55 L330.46,334.94 L331.02,332.30 L331.57,329.62 L332.12,326.91 L332.68,324.18 L333.23,321.43 L333.79,318.67 L334.34,315.91 L334.89,313.15 L335.45,310.40 L336.00,307.67 L336.56,304.97 L337.11,302.30 L337.67,299.67 L338.22,297.10 L338.77,294.59 L339.33,292.14 L339.88,289.78 L340.44,287.49 L340.99,285.30 L341.55,283.21 L342.10,281.23 L342.65,279.36 L343.21,277.61 L343.76,276.00 L344.32,274.51 L344.87,273.17 L345.42,271.97 L345.98,270.93 L346.53,270.03 L347.09,269.30 L347.64,268.72 L348.20,268.31 L348.75,268.06 L349.30,267.98 L349.86,267.99 L350.41,268.03 L350.97,268.10 L351.52,268.20 L352.08,268.32 L352.63,268.47 L353.18,268.65 L353.74,268.86 L354.29,269.09 L354.85,269.35 L355.40,269.63 L355.95,269.94 L356.51,270.28 L357.06,270.65 L357.62,271.04 L358.17,271.45 L358.73,271.89 L359.28,272.36 L359.83,272.85 L360.39,273.36 L360.94,273.90 L361.50,274.46 L362.05,275.05 L362.60,275.66 L363.16,276.29 L363.71,276.94 L364.27,277.61 L364.82,278.31 L365.38,279.03 L365.93,279.76 L366.48,280.52 L367.04,281.30 L367.59,282.10 L368.15,282.91 L368.70,283.74 L369.26,284.59 L369.81,285.46 L370.36,286.34 L370.92,287.24 L371.47,288.16 L372.03,289.09 L372.58,290.03 L373.13,290.99 L373.69,291.97 L374.24,292.95 L374.80,293.95 L375.35,294.96 L375.91,295.98 L376.46,297.01 L377.01,298.05 L377.57,299.10 L378.12,300.16 L378.68,301.22 L379.23,302.30 L379.79,303.38 L380.34,304.47 L380.89,305.56 L381.45,306.66 L382.00,307.77 L382.56,308.88 L383.11,309.99 L383.66,311.11 L384.22,312.23 L384.77,313.35 L385.33,314.47 L385.88,315.60 L386.44,316.73 L386.99,317.85 L387.54,318.98 L388.10,320.10 L388.65,321.23 L389.21,322.35 L389.76,323.47 L390.31,324.59 L390.87,325.70 L391.42,326.81 L391.98,327.92 L392.53,329.02 L393.09,330.12 L393.64,331.21 L394.19,332.30 L394.75,333.38 L395.30,334.46 L395.86,335.52 L396.41,336.59 L396.97,337.64 L397.52,338.69 L398.07,339.73 L398.63,340.76 L399.18,341.78 L399.74,342.79 L400.29,343.80 L400.84,344.79 L401.40,345.78 L401.95,346.75 L402.51,347.72 L403.06,348.67 L403.62,349.62 L404.17,350.55 L404.72,351.48 L405.28,352.39 L405.83,353.29 L406.39,354.18 L406.94,355.06 L407.50,355.92 L408.05,356.78 L408.60,357.62 L409.16,358.46 L409.71,359.28 L410.27,360.08 L410.82,360.88 L411.37,361.66 L411.93,362.44 L412.48,363.19 L413.04,363.94 L413.59,364.68 L414.15,365.40 L414.70,366.11 L415.25,366.81 L415.81,367.49 L416.36,368.17 L416.92,368.83 L417.47,369.48 L418.02,370.11 L418.58,370.74 L419.13,371.35 L419.69,371.95 L420.24,372.54 L420.80,373.12 L421.35,373.69 L421.90,374.24 L422.46,374.78 L423.01,375.31 L423.57,375.83 L424.12,376.34 L424.68,376.84 L425.23,377.32 L425.78,377.80 L426.34,378.26 L426.89,378.72 L427.45,379.16 L428.00,379.59 L428.55,380.01 L429.11,380.42 L429.66,380.83 L430.22,381.22 L430.77,381.60 L431.33,381.97 L431.88,382.34 L432.43,382.69 L432.99,383.04 L433.54,383.37 L434.10,383.70 L434.65,384.02 L435.21,384.33 L435.76,384.63 L436.31,384.92 L436.87,385.20 L437.42,385.48 L437.98,385.75 L438.53,386.01 L439.08,386.27 L439.64,386.51 L440.19,386.75 L440.75,386.98 L441.30,387.21 L441.86,387.43 L442.41,387.64 L442.96,387.84" fill="none" stroke="#e27ae6" stroke-width="1.1"/>
<rect x="282.8" y="255.4" width="166.8" height="137.9" fill="none" stroke="#555" stroke-width="1.1"/>
<line x1="280.5" y1="393.30" x2="282.8" y2="393.30" stroke="#555" stroke-width="0.8"/>
<text x="278.60" y="395.40" font-family="'Liberation Sans', Arial, sans-serif" font-size="6.2" fill="#333" text-anchor="end" font-weight="normal" font-style="normal" stroke="#333" stroke-width="0.28">0</text>
<line x1="281.6" y1="386.04" x2="282.8" y2="386.04" stroke="#555" stroke-width="0.8"/>
<line x1="280.5" y1="378.77" x2="282.8" y2="378.77" stroke="#555" stroke-width="0.8"/>
<text x="278.60" y="380.87" font-family="'Liberation Sans', Arial, sans-serif" font-size="6.2" fill="#333" text-anchor="end" font-weight="normal" font-style="normal" stroke="#333" stroke-width="0.28">2</text>
<line x1="281.6" y1="371.50" x2="282.8" y2="371.50" stroke="#555" stroke-width="0.8"/>
<line x1="280.5" y1="364.24" x2="282.8" y2="364.24" stroke="#555" stroke-width="0.8"/>
<text x="278.60" y="366.34" font-family="'Liberation Sans', Arial, sans-serif" font-size="6.2" fill="#333" text-anchor="end" font-weight="normal" font-style="normal" stroke="#333" stroke-width="0.28">4</text>
<line x1="281.6" y1="356.98" x2="282.8" y2="356.98" stroke="#555" stroke-width="0.8"/>
<line x1="280.5" y1="349.71" x2="282.8" y2="349.71" stroke="#555" stroke-width="0.8"/>
<text x="278.60" y="351.81" font-family="'Liberation Sans', Arial, sans-serif" font-size="6.2" fill="#333" text-anchor="end" font-weight="normal" font-style="normal" stroke="#333" stroke-width="0.28">6</text>
<line x1="281.6" y1="342.44" x2="282.8" y2="342.44" stroke="#555" stroke-width="0.8"/>
<line x1="280.5" y1="335.18" x2="282.8" y2="335.18" stroke="#555" stroke-width="0.8"/>
<text x="278.60" y="337.28" font-family="'Liberation Sans', Arial, sans-serif" font-size="6.2" fill="#333" text-anchor="end" font-weight="normal" font-style="normal" stroke="#333" stroke-width="0.28">8</text>
<line x1="281.6" y1="327.92" x2="282.8" y2="327.92" stroke="#555" stroke-width="0.8"/>
<line x1="280.5" y1="320.65" x2="282.8" y2="320.65" stroke="#555" stroke-width="0.8"/>
<text x="278.60" y="322.75" font-family="'Liberation Sans', Arial, sans-serif" font-size="6.2" fill="#333" text-anchor="end" font-weight="normal" font-style="normal" stroke="#333" stroke-width="0.28">10</text>
<line x1="281.6" y1="313.38" x2="282.8" y2="313.38" stroke="#555" stroke-width="0.8"/>
<line x1="280.5" y1="306.12" x2="282.8" y2="306.12" stroke="#555" stroke-width="0.8"/>
<text x="278.60" y="308.22" font-family="'Liberation Sans', Arial, sans-serif" font-size="6.2" fill="#333" text-anchor="end" font-weight="normal" font-style="normal" stroke="#333" stroke-width="0.28">12</text>
<line x1="281.6" y1="298.86" x2="282.8" y2="298.86" stroke="#555" stroke-width="0.8"/>
<line x1="280.5" y1="291.59" x2="282.8" y2="291.59" stroke="#555" stroke-width="0.8"/>
<text x="278.60" y="293.69" font-family="'Liberation Sans', Arial, sans-serif" font-size="6.2" fill="#333" text-anchor="end" font-weight="normal" font-style="normal" stroke="#333" stroke-width="0.28">14</text>
<line x1="281.6" y1="284.33" x2="282.8" y2="284.33" stroke="#555" stroke-width="0.8"/>
<line x1="280.5" y1="277.06" x2="282.8" y2="277.06" stroke="#555" stroke-width="0.8"/>
<text x="278.60" y="279.16" font-family="'Liberation Sans', Arial, sans-serif" font-size="6.2" fill="#333" text-anchor="end" font-weight="normal" font-style="normal" stroke="#333" stroke-width="0.28">16</text>
<line x1="281.6" y1="269.80" x2="282.8" y2="269.80" stroke="#555" stroke-width="0.8"/>
<line x1="280.5" y1="262.53" x2="282.8" y2="262.53" stroke="#555" stroke-width="0.8"/>
<text x="278.60" y="264.63" font-family="'Liberation Sans', Arial, sans-serif" font-size="6.2" fill="#333" text-anchor="end" font-weight="normal" font-style="normal" stroke="#333" stroke-width="0.28">18</text>
<line x1="282.80" y1="393.3" x2="282.80" y2="395.7" stroke="#555" stroke-width="0.8"/>
<text x="282.80" y="404.40" font-family="'Liberation Sans', Arial, sans-serif" font-size="6.4" fill="#333" text-anchor="middle" font-weight="normal" font-style="normal" stroke="#333" stroke-width="0.28">0</text>
<line x1="296.66" y1="393.3" x2="296.66" y2="394.6" stroke="#555" stroke-width="0.8"/>
<line x1="310.51" y1="393.3" x2="310.51" y2="395.7" stroke="#555" stroke-width="0.8"/>
<text x="310.51" y="404.40" font-family="'Liberation Sans', Arial, sans-serif" font-size="6.4" fill="#333" text-anchor="middle" font-weight="normal" font-style="normal" stroke="#333" stroke-width="0.28">200</text>
<line x1="324.37" y1="393.3" x2="324.37" y2="394.6" stroke="#555" stroke-width="0.8"/>
<line x1="338.22" y1="393.3" x2="338.22" y2="395.7" stroke="#555" stroke-width="0.8"/>
<text x="338.22" y="404.40" font-family="'Liberation Sans', Arial, sans-serif" font-size="6.4" fill="#333" text-anchor="middle" font-weight="normal" font-style="normal" stroke="#333" stroke-width="0.28">400</text>
<line x1="352.08" y1="393.3" x2="352.08" y2="394.6" stroke="#555" stroke-width="0.8"/>
<line x1="365.93" y1="393.3" x2="365.93" y2="395.7" stroke="#555" stroke-width="0.8"/>
<text x="365.93" y="404.40" font-family="'Liberation Sans', Arial, sans-serif" font-size="6.4" fill="#333" text-anchor="middle" font-weight="normal" font-style="normal" stroke="#333" stroke-width="0.28">600</text>
<line x1="379.79" y1="393.3" x2="379.79" y2="394.6" stroke="#555" stroke-width="0.8"/>
<line x1="393.64" y1="393.3" x2="393.64" y2="395.7" stroke="#555" stroke-width="0.8"/>
<text x="393.64" y="404.40" font-family="'Liberation Sans', Arial, sans-serif" font-size="6.4" fill="#333" text-anchor="middle" font-weight="normal" font-style="normal" stroke="#333" stroke-width="0.28">800</text>
<line x1="407.50" y1="393.3" x2="407.50" y2="394.6" stroke="#555" stroke-width="0.8"/>
<line x1="421.35" y1="393.3" x2="421.35" y2="395.7" stroke="#555" stroke-width="0.8"/>
<text x="421.35" y="404.40" font-family="'Liberation Sans', Arial, sans-serif" font-size="6.4" fill="#333" text-anchor="middle" font-weight="normal" font-style="normal" stroke="#333" stroke-width="0.28">1000</text>
<line x1="435.21" y1="393.3" x2="435.21" y2="394.6" stroke="#555" stroke-width="0.8"/>
<line x1="449.06" y1="393.3" x2="449.06" y2="395.7" stroke="#555" stroke-width="0.8"/>
<text x="449.06" y="404.40" font-family="'Liberation Sans', Arial, sans-serif" font-size="6.4" fill="#333" text-anchor="middle" font-weight="normal" font-style="normal" stroke="#333" stroke-width="0.28">1200</text>
<text x="333.60" y="418.20" font-family="'Liberation Sans', Arial, sans-serif" font-size="9.9" fill="#222" text-anchor="start" font-weight="normal" font-style="normal" textLength="65.10" lengthAdjust="spacingAndGlyphs" stroke="#222" stroke-width="0.28">Grain size(nm)</text>
<text transform="translate(266.3,344.7) rotate(-90)" font-family="'Liberation Sans', Arial, sans-serif" font-size="9.7" fill="#222" textLength="40.5" lengthAdjust="spacingAndGlyphs">counts(#)</text>
<rect x="364.4" y="234.4" width="114.1" height="19.0" fill="#fff" stroke="#bbb" stroke-width="0.7"/>
<rect x="365.4" y="236.4" width="15.8" height="6.9" fill="#fbc98e" stroke="#857560" stroke-width="0.8"/>
<line x1="365.4" y1="248.5" x2="381.3" y2="248.5" stroke="#e27ae6" stroke-width="1.1"/>
<text x="383.60" y="242.50" font-family="'Liberation Sans', Arial, sans-serif" font-size="7.0" fill="#222" text-anchor="start" font-weight="normal" font-style="normal" textLength="93.30" lengthAdjust="spacingAndGlyphs" stroke="#222" stroke-width="0.28">2<tspan font-size="3.6" dy="-2.6">nd</tspan><tspan dy="2.6"> layer grain size distribution</tspan></text>
<text x="383.60" y="251.00" font-family="'Liberation Sans', Arial, sans-serif" font-size="7.0" fill="#222" text-anchor="start" font-weight="normal" font-style="normal" textLength="54.50" lengthAdjust="spacingAndGlyphs" stroke="#222" stroke-width="0.28">Bigaussian Fitting</text>
<path d="M421.9,257.1 L445.3,294.4 L398.8,294.4 Z" fill="#872a9a" stroke="#4a1050" stroke-width="0.8"/>
<rect x="399.3" y="294.4" width="45.6" height="3.5" fill="url(#strip)"/>
<path d="M399.4,295.2 C398.6,300 401,303.5 406,305.2" fill="none" stroke="#6a1a78" stroke-width="1.3"/>
<path d="M445.2,295.2 C446,300 443.6,303.5 438.6,305.2" fill="none" stroke="#6a1a78" stroke-width="1.3"/>
<text x="416.60" y="314.70" font-family="'Liberation Sans', Arial, sans-serif" font-size="21" fill="#111" text-anchor="start" font-weight="normal" font-style="normal" textLength="11.00" lengthAdjust="spacingAndGlyphs" stroke="#111" stroke-width="0.6">L</text>
<text x="2.00" y="453.80" font-family="'Liberation Serif', 'Times New Roman', serif" font-size="18" fill="#111" text-anchor="start" font-weight="bold" font-style="normal" textLength="22.00" lengthAdjust="spacingAndGlyphs">(e)</text>
<path d="M87.60,461.30 L85.10,463.38 M87.60,475.20 L85.10,473.27 M87.60,461.30 L96.27,468.50 M87.60,475.20 L96.27,468.50 M96.27,461.30 L87.60,468.50 M96.27,475.20 L87.60,468.50 M96.27,461.30 L104.94,468.50 M96.27,475.20 L104.94,468.50 M104.94,461.30 L96.27,468.50 M104.94,475.20 L96.27,468.50 M104.94,461.30 L113.61,468.50 M104.94,475.20 L113.61,468.50 M113.61,461.30 L104.94,468.50 M113.61,475.20 L104.94,468.50 M113.61,461.30 L122.28,468.50 M113.61,475.20 L122.28,468.50 M122.28,461.30 L113.61,468.50 M122.28,475.20 L113.61,468.50 M122.28,461.30 L130.95,468.50 M122.28,475.20 L130.95,468.50 M130.95,461.30 L122.28,468.50 M130.95,475.20 L122.28,468.50 M130.95,461.30 L139.62,468.50 M130.95,475.20 L139.62,468.50 M139.62,461.30 L130.95,468.50 M139.62,475.20 L130.95,468.50 M139.62,461.30 L148.29,468.50 M139.62,475.20 L148.29,468.50 M148.29,461.30 L139.62,468.50 M148.29,475.20 L139.62,468.50 M148.29,461.30 L156.96,468.50 M148.29,475.20 L156.96,468.50 M156.96,461.30 L148.29,468.50 M156.96,475.20 L148.29,468.50 M156.96,461.30 L165.63,468.50 M156.96,475.20 L165.63,468.50 M165.63,461.30 L156.96,468.50 M165.63,475.20 L156.96,468.50 M165.63,461.30 L174.30,468.50 M165.63,475.20 L174.30,468.50 M174.30,461.30 L165.63,468.50 M174.30,475.20 L165.63,468.50 M174.30,461.30 L182.97,468.50 M174.30,475.20 L182.97,468.50 M182.97,461.30 L174.30,468.50 M182.97,475.20 L174.30,468.50 M182.97,461.30 L191.64,468.50 M182.97,475.20 L191.64,468.50 M191.64,461.30 L182.97,468.50 M191.64,475.20 L182.97,468.50 M191.64,461.30 L200.31,468.50 M191.64,475.20 L200.31,468.50 M200.31,461.30 L191.64,468.50 M200.31,475.20 L191.64,468.50 M200.31,461.30 L208.98,468.50 M200.31,475.20 L208.98,468.50 M208.98,461.30 L200.31,468.50 M208.98,475.20 L200.31,468.50 M208.98,461.30 L217.65,468.50 M208.98,475.20 L217.65,468.50 M217.65,461.30 L208.98,468.50 M217.65,475.20 L208.98,468.50 M217.65,461.30 L226.32,468.50 M217.65,475.20 L226.32,468.50 M226.32,461.30 L217.65,468.50 M226.32,475.20 L217.65,468.50 M226.32,461.30 L234.99,468.50 M226.32,475.20 L234.99,468.50 M234.99,461.30 L226.32,468.50 M234.99,475.20 L226.32,468.50 M234.99,461.30 L243.66,468.50 M234.99,475.20 L243.66,468.50 M243.66,461.30 L234.99,468.50 M243.66,475.20 L234.99,468.50 M243.66,461.30 L252.33,468.50 M243.66,475.20 L252.33,468.50 M252.33,461.30 L243.66,468.50 M252.33,475.20 L243.66,468.50 M252.33,461.30 L261.00,468.50 M252.33,475.20 L261.00,468.50 M261.00,461.30 L252.33,468.50 M261.00,475.20 L252.33,468.50 M261.00,461.30 L269.67,468.50 M261.00,475.20 L269.67,468.50 M269.67,461.30 L261.00,468.50 M269.67,475.20 L261.00,468.50 M269.67,461.30 L278.34,468.50 M269.67,475.20 L278.34,468.50 M278.34,461.30 L269.67,468.50 M278.34,475.20 L269.67,468.50 M278.34,461.30 L287.01,468.50 M278.34,475.20 L287.01,468.50 M287.01,461.30 L278.34,468.50 M287.01,475.20 L278.34,468.50 M287.01,461.30 L295.68,468.50 M287.01,475.20 L295.68,468.50 M295.68,461.30 L287.01,468.50 M295.68,475.20 L287.01,468.50 M295.68,461.30 L304.35,468.50 M295.68,475.20 L304.35,468.50 M304.35,461.30 L295.68,468.50 M304.35,475.20 L295.68,468.50 M304.35,461.30 L313.02,468.50 M304.35,475.20 L313.02,468.50 M313.02,461.30 L304.35,468.50 M313.02,475.20 L304.35,468.50 M313.02,461.30 L315.52,463.38 M313.02,475.20 L315.52,473.27" stroke="#4c5478" stroke-width="0.95" fill="none"/>
<path d="M87.60,468.50 L87.60,476.20 M96.27,468.50 L96.27,476.20 M104.94,468.50 L104.94,476.20 M113.61,468.50 L113.61,476.20 M122.28,468.50 L122.28,476.20 M130.95,468.50 L130.95,476.20 M139.62,468.50 L139.62,476.20 M148.29,468.50 L148.29,476.20 M156.96,468.50 L156.96,476.20 M165.63,468.50 L165.63,476.20 M174.30,468.50 L174.30,476.20 M182.97,468.50 L182.97,476.20 M191.64,468.50 L191.64,476.20 M200.31,468.50 L200.31,476.20 M208.98,468.50 L208.98,476.20 M217.65,468.50 L217.65,476.20 M226.32,468.50 L226.32,476.20 M234.99,468.50 L234.99,476.20 M243.66,468.50 L243.66,476.20 M252.33,468.50 L252.33,476.20 M261.00,468.50 L261.00,476.20 M269.67,468.50 L269.67,476.20 M278.34,468.50 L278.34,476.20 M287.01,468.50 L287.01,476.20 M295.68,468.50 L295.68,476.20 M304.35,468.50 L304.35,476.20 M313.02,468.50 L313.02,476.20" stroke="#2a2a2a" stroke-width="1.4" fill="none"/>
<ellipse cx="87.60" cy="460.30" rx="2.9" ry="2.4" fill="url(#sy)"/>
<ellipse cx="87.60" cy="476.20" rx="2.9" ry="2.4" fill="url(#sy)"/>
<circle cx="87.60" cy="468.50" r="2.05" fill="url(#wd)"/>
<ellipse cx="96.27" cy="460.30" rx="2.9" ry="2.4" fill="url(#sy)"/>
<ellipse cx="96.27" cy="476.20" rx="2.9" ry="2.4" fill="url(#sy)"/>
<circle cx="96.27" cy="468.50" r="2.05" fill="url(#wd)"/>
<ellipse cx="104.94" cy="460.30" rx="2.9" ry="2.4" fill="url(#sy)"/>
<ellipse cx="104.94" cy="476.20" rx="2.9" ry="2.4" fill="url(#sy)"/>
<circle cx="104.94" cy="468.50" r="2.05" fill="url(#wd)"/>
<ellipse cx="113.61" cy="460.30" rx="2.9" ry="2.4" fill="url(#sy)"/>
<ellipse cx="113.61" cy="476.20" rx="2.9" ry="2.4" fill="url(#sy)"/>
<circle cx="113.61" cy="468.50" r="2.05" fill="url(#wd)"/>
<ellipse cx="122.28" cy="460.30" rx="2.9" ry="2.4" fill="url(#sy)"/>
<ellipse cx="122.28" cy="476.20" rx="2.9" ry="2.4" fill="url(#sy)"/>
<circle cx="122.28" cy="468.50" r="2.05" fill="url(#wd)"/>
<ellipse cx="130.95" cy="460.30" rx="2.9" ry="2.4" fill="url(#sy)"/>
<ellipse cx="130.95" cy="476.20" rx="2.9" ry="2.4" fill="url(#sy)"/>
<circle cx="130.95" cy="468.50" r="2.05" fill="url(#wd)"/>
<ellipse cx="139.62" cy="460.30" rx="2.9" ry="2.4" fill="url(#sy)"/>
<ellipse cx="139.62" cy="476.20" rx="2.9" ry="2.4" fill="url(#sy)"/>
<circle cx="139.62" cy="468.50" r="2.05" fill="url(#wd)"/>
<ellipse cx="148.29" cy="460.30" rx="2.9" ry="2.4" fill="url(#sy)"/>
<ellipse cx="148.29" cy="476.20" rx="2.9" ry="2.4" fill="url(#sy)"/>
<circle cx="148.29" cy="468.50" r="2.05" fill="url(#wd)"/>
<ellipse cx="156.96" cy="460.30" rx="2.9" ry="2.4" fill="url(#sy)"/>
<ellipse cx="156.96" cy="476.20" rx="2.9" ry="2.4" fill="url(#sy)"/>
<circle cx="156.96" cy="468.50" r="2.05" fill="url(#wd)"/>
<ellipse cx="165.63" cy="460.30" rx="2.9" ry="2.4" fill="url(#sy)"/>
<ellipse cx="165.63" cy="476.20" rx="2.9" ry="2.4" fill="url(#sy)"/>
<circle cx="165.63" cy="468.50" r="2.05" fill="url(#wd)"/>
<ellipse cx="174.30" cy="460.30" rx="2.9" ry="2.4" fill="url(#sy)"/>
<ellipse cx="174.30" cy="476.20" rx="2.9" ry="2.4" fill="url(#sy)"/>
<circle cx="174.30" cy="468.50" r="2.05" fill="url(#wd)"/>
<ellipse cx="182.97" cy="460.30" rx="2.9" ry="2.4" fill="url(#sy)"/>
<ellipse cx="182.97" cy="476.20" rx="2.9" ry="2.4" fill="url(#sy)"/>
<circle cx="182.97" cy="468.50" r="2.05" fill="url(#wd)"/>
<ellipse cx="191.64" cy="460.30" rx="2.9" ry="2.4" fill="url(#sy)"/>
<ellipse cx="191.64" cy="476.20" rx="2.9" ry="2.4" fill="url(#sy)"/>
<circle cx="191.64" cy="468.50" r="2.05" fill="url(#wd)"/>
<ellipse cx="200.31" cy="460.30" rx="2.9" ry="2.4" fill="url(#sy)"/>
<ellipse cx="200.31" cy="476.20" rx="2.9" ry="2.4" fill="url(#sy)"/>
<circle cx="200.31" cy="468.50" r="2.05" fill="url(#wd)"/>
<ellipse cx="208.98" cy="460.30" rx="2.9" ry="2.4" fill="url(#sy)"/>
<ellipse cx="208.98" cy="476.20" rx="2.9" ry="2.4" fill="url(#sy)"/>
<circle cx="208.98" cy="468.50" r="2.05" fill="url(#wd)"/>
<ellipse cx="217.65" cy="460.30" rx="2.9" ry="2.4" fill="url(#sy)"/>
<ellipse cx="217.65" cy="476.20" rx="2.9" ry="2.4" fill="url(#sy)"/>
<circle cx="217.65" cy="468.50" r="2.05" fill="url(#wd)"/>
<ellipse cx="226.32" cy="460.30" rx="2.9" ry="2.4" fill="url(#sy)"/>
<ellipse cx="226.32" cy="476.20" rx="2.9" ry="2.4" fill="url(#sy)"/>
<circle cx="226.32" cy="468.50" r="2.05" fill="url(#wd)"/>
<ellipse cx="234.99" cy="460.30" rx="2.9" ry="2.4" fill="url(#sy)"/>
<ellipse cx="234.99" cy="476.20" rx="2.9" ry="2.4" fill="url(#sy)"/>
<circle cx="234.99" cy="468.50" r="2.05" fill="url(#wd)"/>
<ellipse cx="243.66" cy="460.30" rx="2.9" ry="2.4" fill="url(#sy)"/>
<ellipse cx="243.66" cy="476.20" rx="2.9" ry="2.4" fill="url(#sy)"/>
<circle cx="243.66" cy="468.50" r="2.05" fill="url(#wd)"/>
<ellipse cx="252.33" cy="460.30" rx="2.9" ry="2.4" fill="url(#sy)"/>
<ellipse cx="252.33" cy="476.20" rx="2.9" ry="2.4" fill="url(#sy)"/>
<circle cx="252.33" cy="468.50" r="2.05" fill="url(#wd)"/>
<ellipse cx="261.00" cy="460.30" rx="2.9" ry="2.4" fill="url(#sy)"/>
<ellipse cx="261.00" cy="476.20" rx="2.9" ry="2.4" fill="url(#sy)"/>
<circle cx="261.00" cy="468.50" r="2.05" fill="url(#wd)"/>
<ellipse cx="269.67" cy="460.30" rx="2.9" ry="2.4" fill="url(#sy)"/>
<ellipse cx="269.67" cy="476.20" rx="2.9" ry="2.4" fill="url(#sy)"/>
<circle cx="269.67" cy="468.50" r="2.05" fill="url(#wd)"/>
<ellipse cx="278.34" cy="460.30" rx="2.9" ry="2.4" fill="url(#sy)"/>
<ellipse cx="278.34" cy="476.20" rx="2.9" ry="2.4" fill="url(#sy)"/>
<circle cx="278.34" cy="468.50" r="2.05" fill="url(#wd)"/>
<ellipse cx="287.01" cy="460.30" rx="2.9" ry="2.4" fill="url(#sy)"/>
<ellipse cx="287.01" cy="476.20" rx="2.9" ry="2.4" fill="url(#sy)"/>
<circle cx="287.01" cy="468.50" r="2.05" fill="url(#wd)"/>
<ellipse cx="295.68" cy="460.30" rx="2.9" ry="2.4" fill="url(#sy)"/>
<ellipse cx="295.68" cy="476.20" rx="2.9" ry="2.4" fill="url(#sy)"/>
<circle cx="295.68" cy="468.50" r="2.05" fill="url(#wd)"/>
<ellipse cx="304.35" cy="460.30" rx="2.9" ry="2.4" fill="url(#sy)"/>
<ellipse cx="304.35" cy="476.20" rx="2.9" ry="2.4" fill="url(#sy)"/>
<circle cx="304.35" cy="468.50" r="2.05" fill="url(#wd)"/>
<ellipse cx="313.02" cy="460.30" rx="2.9" ry="2.4" fill="url(#sy)"/>
<ellipse cx="313.02" cy="476.20" rx="2.9" ry="2.4" fill="url(#sy)"/>
<circle cx="313.02" cy="468.50" r="2.05" fill="url(#wd)"/>
<path d="M19.60,482.70 L17.10,484.81 M19.60,496.90 L17.10,494.90 M19.60,482.70 L28.24,490.00 M19.60,496.90 L28.24,490.00 M28.24,482.70 L19.60,490.00 M28.24,496.90 L19.60,490.00 M28.24,482.70 L36.88,490.00 M28.24,496.90 L36.88,490.00 M36.88,482.70 L28.24,490.00 M36.88,496.90 L28.24,490.00 M36.88,482.70 L45.52,490.00 M36.88,496.90 L45.52,490.00 M45.52,482.70 L36.88,490.00 M45.52,496.90 L36.88,490.00 M45.52,482.70 L54.16,490.00 M45.52,496.90 L54.16,490.00 M54.16,482.70 L45.52,490.00 M54.16,496.90 L45.52,490.00 M54.16,482.70 L62.80,490.00 M54.16,496.90 L62.80,490.00 M62.80,482.70 L54.16,490.00 M62.80,496.90 L54.16,490.00 M62.80,482.70 L71.44,490.00 M62.80,496.90 L71.44,490.00 M71.44,482.70 L62.80,490.00 M71.44,496.90 L62.80,490.00 M71.44,482.70 L80.08,490.00 M71.44,496.90 L80.08,490.00 M80.08,482.70 L71.44,490.00 M80.08,496.90 L71.44,490.00 M80.08,482.70 L88.72,490.00 M80.08,496.90 L88.72,490.00 M88.72,482.70 L80.08,490.00 M88.72,496.90 L80.08,490.00 M88.72,482.70 L97.36,490.00 M88.72,496.90 L97.36,490.00 M97.36,482.70 L88.72,490.00 M97.36,496.90 L88.72,490.00 M97.36,482.70 L106.00,490.00 M97.36,496.90 L106.00,490.00 M106.00,482.70 L97.36,490.00 M106.00,496.90 L97.36,490.00 M106.00,482.70 L114.64,490.00 M106.00,496.90 L114.64,490.00 M114.64,482.70 L106.00,490.00 M114.64,496.90 L106.00,490.00 M114.64,482.70 L123.28,490.00 M114.64,496.90 L123.28,490.00 M123.28,482.70 L114.64,490.00 M123.28,496.90 L114.64,490.00 M123.28,482.70 L131.92,490.00 M123.28,496.90 L131.92,490.00 M131.92,482.70 L123.28,490.00 M131.92,496.90 L123.28,490.00 M131.92,482.70 L134.42,484.81 M131.92,496.90 L134.42,494.90" stroke="#4c5478" stroke-width="0.95" fill="none"/>
<path d="M19.60,490.00 L19.60,497.90 M28.24,490.00 L28.24,497.90 M36.88,490.00 L36.88,497.90 M45.52,490.00 L45.52,497.90 M54.16,490.00 L54.16,497.90 M62.80,490.00 L62.80,497.90 M71.44,490.00 L71.44,497.90 M80.08,490.00 L80.08,497.90 M88.72,490.00 L88.72,497.90 M97.36,490.00 L97.36,497.90 M106.00,490.00 L106.00,497.90 M114.64,490.00 L114.64,497.90 M123.28,490.00 L123.28,497.90 M131.92,490.00 L131.92,497.90" stroke="#2a2a2a" stroke-width="1.4" fill="none"/>
<ellipse cx="19.60" cy="481.70" rx="2.9" ry="2.4" fill="url(#sy)"/>
<ellipse cx="19.60" cy="497.90" rx="2.9" ry="2.4" fill="url(#sy)"/>
<circle cx="19.60" cy="490.00" r="2.05" fill="url(#wd)"/>
<ellipse cx="28.24" cy="481.70" rx="2.9" ry="2.4" fill="url(#sy)"/>
<ellipse cx="28.24" cy="497.90" rx="2.9" ry="2.4" fill="url(#sy)"/>
<circle cx="28.24" cy="490.00" r="2.05" fill="url(#wd)"/>
<ellipse cx="36.88" cy="481.70" rx="2.9" ry="2.4" fill="url(#sy)"/>
<ellipse cx="36.88" cy="497.90" rx="2.9" ry="2.4" fill="url(#sy)"/>
<circle cx="36.88" cy="490.00" r="2.05" fill="url(#wd)"/>
<ellipse cx="45.52" cy="481.70" rx="2.9" ry="2.4" fill="url(#sy)"/>
<ellipse cx="45.52" cy="497.90" rx="2.9" ry="2.4" fill="url(#sy)"/>
<circle cx="45.52" cy="490.00" r="2.05" fill="url(#wd)"/>
<ellipse cx="54.16" cy="481.70" rx="2.9" ry="2.4" fill="url(#sy)"/>
<ellipse cx="54.16" cy="497.90" rx="2.9" ry="2.4" fill="url(#sy)"/>
<circle cx="54.16" cy="490.00" r="2.05" fill="url(#wd)"/>
<ellipse cx="62.80" cy="481.70" rx="2.9" ry="2.4" fill="url(#sy)"/>
<ellipse cx="62.80" cy="497.90" rx="2.9" ry="2.4" fill="url(#sy)"/>
<circle cx="62.80" cy="490.00" r="2.05" fill="url(#wd)"/>
<ellipse cx="71.44" cy="481.70" rx="2.9" ry="2.4" fill="url(#sy)"/>
<ellipse cx="71.44" cy="497.90" rx="2.9" ry="2.4" fill="url(#sy)"/>
<circle cx="71.44" cy="490.00" r="2.05" fill="url(#wd)"/>
<ellipse cx="80.08" cy="481.70" rx="2.9" ry="2.4" fill="url(#sy)"/>
<ellipse cx="80.08" cy="497.90" rx="2.9" ry="2.4" fill="url(#sy)"/>
<circle cx="80.08" cy="490.00" r="2.05" fill="url(#wd)"/>
<ellipse cx="88.72" cy="481.70" rx="2.9" ry="2.4" fill="url(#sy)"/>
<ellipse cx="88.72" cy="497.90" rx="2.9" ry="2.4" fill="url(#sy)"/>
<circle cx="88.72" cy="490.00" r="2.05" fill="url(#wd)"/>
<ellipse cx="97.36" cy="481.70" rx="2.9" ry="2.4" fill="url(#sy)"/>
<ellipse cx="97.36" cy="497.90" rx="2.9" ry="2.4" fill="url(#sy)"/>
<circle cx="97.36" cy="490.00" r="2.05" fill="url(#wd)"/>
<ellipse cx="106.00" cy="481.70" rx="2.9" ry="2.4" fill="url(#sy)"/>
<ellipse cx="106.00" cy="497.90" rx="2.9" ry="2.4" fill="url(#sy)"/>
<circle cx="106.00" cy="490.00" r="2.05" fill="url(#wd)"/>
<ellipse cx="114.64" cy="481.70" rx="2.9" ry="2.4" fill="url(#sy)"/>
<ellipse cx="114.64" cy="497.90" rx="2.9" ry="2.4" fill="url(#sy)"/>
<circle cx="114.64" cy="490.00" r="2.05" fill="url(#wd)"/>
<ellipse cx="123.28" cy="481.70" rx="2.9" ry="2.4" fill="url(#sy)"/>
<ellipse cx="123.28" cy="497.90" rx="2.9" ry="2.4" fill="url(#sy)"/>
<circle cx="123.28" cy="490.00" r="2.05" fill="url(#wd)"/>
<ellipse cx="131.92" cy="481.70" rx="2.9" ry="2.4" fill="url(#sy)"/>
<ellipse cx="131.92" cy="497.90" rx="2.9" ry="2.4" fill="url(#sy)"/>
<circle cx="131.92" cy="490.00" r="2.05" fill="url(#wd)"/>
<path d="M148.00,482.70 L145.50,484.81 M148.00,496.90 L145.50,494.90 M148.00,482.70 L156.64,490.00 M148.00,496.90 L156.64,490.00 M156.64,482.70 L148.00,490.00 M156.64,496.90 L148.00,490.00 M156.64,482.70 L165.28,490.00 M156.64,496.90 L165.28,490.00 M165.28,482.70 L156.64,490.00 M165.28,496.90 L156.64,490.00 M165.28,482.70 L173.92,490.00 M165.28,496.90 L173.92,490.00 M173.92,482.70 L165.28,490.00 M173.92,496.90 L165.28,490.00 M173.92,482.70 L182.56,490.00 M173.92,496.90 L182.56,490.00 M182.56,482.70 L173.92,490.00 M182.56,496.90 L173.92,490.00 M182.56,482.70 L191.20,490.00 M182.56,496.90 L191.20,490.00 M191.20,482.70 L182.56,490.00 M191.20,496.90 L182.56,490.00 M191.20,482.70 L199.84,490.00 M191.20,496.90 L199.84,490.00 M199.84,482.70 L191.20,490.00 M199.84,496.90 L191.20,490.00 M199.84,482.70 L208.48,490.00 M199.84,496.90 L208.48,490.00 M208.48,482.70 L199.84,490.00 M208.48,496.90 L199.84,490.00 M208.48,482.70 L217.12,490.00 M208.48,496.90 L217.12,490.00 M217.12,482.70 L208.48,490.00 M217.12,496.90 L208.48,490.00 M217.12,482.70 L225.76,490.00 M217.12,496.90 L225.76,490.00 M225.76,482.70 L217.12,490.00 M225.76,496.90 L217.12,490.00 M225.76,482.70 L234.40,490.00 M225.76,496.90 L234.40,490.00 M234.40,482.70 L225.76,490.00 M234.40,496.90 L225.76,490.00 M234.40,482.70 L243.04,490.00 M234.40,496.90 L243.04,490.00 M243.04,482.70 L234.40,490.00 M243.04,496.90 L234.40,490.00 M243.04,482.70 L251.68,490.00 M243.04,496.90 L251.68,490.00 M251.68,482.70 L243.04,490.00 M251.68,496.90 L243.04,490.00 M251.68,482.70 L260.32,490.00 M251.68,496.90 L260.32,490.00 M260.32,482.70 L251.68,490.00 M260.32,496.90 L251.68,490.00 M260.32,482.70 L262.82,484.81 M260.32,496.90 L262.82,494.90" stroke="#4c5478" stroke-width="0.95" fill="none"/>
<path d="M148.00,490.00 L148.00,497.90 M156.64,490.00 L156.64,497.90 M165.28,490.00 L165.28,497.90 M173.92,490.00 L173.92,497.90 M182.56,490.00 L182.56,497.90 M191.20,490.00 L191.20,497.90 M199.84,490.00 L199.84,497.90 M208.48,490.00 L208.48,497.90 M217.12,490.00 L217.12,497.90 M225.76,490.00 L225.76,497.90 M234.40,490.00 L234.40,497.90 M243.04,490.00 L243.04,497.90 M251.68,490.00 L251.68,497.90 M260.32,490.00 L260.32,497.90" stroke="#2a2a2a" stroke-width="1.4" fill="none"/>
<ellipse cx="148.00" cy="481.70" rx="2.9" ry="2.4" fill="url(#sy)"/>
<ellipse cx="148.00" cy="497.90" rx="2.9" ry="2.4" fill="url(#sy)"/>
<circle cx="148.00" cy="490.00" r="2.05" fill="url(#wd)"/>
<ellipse cx="156.64" cy="481.70" rx="2.9" ry="2.4" fill="url(#sy)"/>
<ellipse cx="156.64" cy="497.90" rx="2.9" ry="2.4" fill="url(#sy)"/>
<circle cx="156.64" cy="490.00" r="2.05" fill="url(#wd)"/>
<ellipse cx="165.28" cy="481.70" rx="2.9" ry="2.4" fill="url(#sy)"/>
<ellipse cx="165.28" cy="497.90" rx="2.9" ry="2.4" fill="url(#sy)"/>
<circle cx="165.28" cy="490.00" r="2.05" fill="url(#wd)"/>
<ellipse cx="173.92" cy="481.70" rx="2.9" ry="2.4" fill="url(#sy)"/>
<ellipse cx="173.92" cy="497.90" rx="2.9" ry="2.4" fill="url(#sy)"/>
<circle cx="173.92" cy="490.00" r="2.05" fill="url(#wd)"/>
<ellipse cx="182.56" cy="481.70" rx="2.9" ry="2.4" fill="url(#sy)"/>
<ellipse cx="182.56" cy="497.90" rx="2.9" ry="2.4" fill="url(#sy)"/>
<circle cx="182.56" cy="490.00" r="2.05" fill="url(#wd)"/>
<ellipse cx="191.20" cy="481.70" rx="2.9" ry="2.4" fill="url(#sy)"/>
<ellipse cx="191.20" cy="497.90" rx="2.9" ry="2.4" fill="url(#sy)"/>
<circle cx="191.20" cy="490.00" r="2.05" fill="url(#wd)"/>
<ellipse cx="199.84" cy="481.70" rx="2.9" ry="2.4" fill="url(#sy)"/>
<ellipse cx="199.84" cy="497.90" rx="2.9" ry="2.4" fill="url(#sy)"/>
<circle cx="199.84" cy="490.00" r="2.05" fill="url(#wd)"/>
<ellipse cx="208.48" cy="481.70" rx="2.9" ry="2.4" fill="url(#sy)"/>
<ellipse cx="208.48" cy="497.90" rx="2.9" ry="2.4" fill="url(#sy)"/>
<circle cx="208.48" cy="490.00" r="2.05" fill="url(#wd)"/>
<ellipse cx="217.12" cy="481.70" rx="2.9" ry="2.4" fill="url(#sy)"/>
<ellipse cx="217.12" cy="497.90" rx="2.9" ry="2.4" fill="url(#sy)"/>
<circle cx="217.12" cy="490.00" r="2.05" fill="url(#wd)"/>
<ellipse cx="225.76" cy="481.70" rx="2.9" ry="2.4" fill="url(#sy)"/>
<ellipse cx="225.76" cy="497.90" rx="2.9" ry="2.4" fill="url(#sy)"/>
<circle cx="225.76" cy="490.00" r="2.05" fill="url(#wd)"/>
<ellipse cx="234.40" cy="481.70" rx="2.9" ry="2.4" fill="url(#sy)"/>
<ellipse cx="234.40" cy="497.90" rx="2.9" ry="2.4" fill="url(#sy)"/>
<circle cx="234.40" cy="490.00" r="2.05" fill="url(#wd)"/>
<ellipse cx="243.04" cy="481.70" rx="2.9" ry="2.4" fill="url(#sy)"/>
<ellipse cx="243.04" cy="497.90" rx="2.9" ry="2.4" fill="url(#sy)"/>
<circle cx="243.04" cy="490.00" r="2.05" fill="url(#wd)"/>
<ellipse cx="251.68" cy="481.70" rx="2.9" ry="2.4" fill="url(#sy)"/>
<ellipse cx="251.68" cy="497.90" rx="2.9" ry="2.4" fill="url(#sy)"/>
<circle cx="251.68" cy="490.00" r="2.05" fill="url(#wd)"/>
<ellipse cx="260.32" cy="481.70" rx="2.9" ry="2.4" fill="url(#sy)"/>
<ellipse cx="260.32" cy="497.90" rx="2.9" ry="2.4" fill="url(#sy)"/>
<circle cx="260.32" cy="490.00" r="2.05" fill="url(#wd)"/>
<path d="M277.00,482.70 L274.50,484.81 M277.00,496.90 L274.50,494.90 M277.00,482.70 L285.64,490.00 M277.00,496.90 L285.64,490.00 M285.64,482.70 L277.00,490.00 M285.64,496.90 L277.00,490.00 M285.64,482.70 L294.28,490.00 M285.64,496.90 L294.28,490.00 M294.28,482.70 L285.64,490.00 M294.28,496.90 L285.64,490.00 M294.28,482.70 L302.92,490.00 M294.28,496.90 L302.92,490.00 M302.92,482.70 L294.28,490.00 M302.92,496.90 L294.28,490.00 M302.92,482.70 L311.56,490.00 M302.92,496.90 L311.56,490.00 M311.56,482.70 L302.92,490.00 M311.56,496.90 L302.92,490.00 M311.56,482.70 L320.20,490.00 M311.56,496.90 L320.20,490.00 M320.20,482.70 L311.56,490.00 M320.20,496.90 L311.56,490.00 M320.20,482.70 L328.84,490.00 M320.20,496.90 L328.84,490.00 M328.84,482.70 L320.20,490.00 M328.84,496.90 L320.20,490.00 M328.84,482.70 L337.48,490.00 M328.84,496.90 L337.48,490.00 M337.48,482.70 L328.84,490.00 M337.48,496.90 L328.84,490.00 M337.48,482.70 L346.12,490.00 M337.48,496.90 L346.12,490.00 M346.12,482.70 L337.48,490.00 M346.12,496.90 L337.48,490.00 M346.12,482.70 L354.76,490.00 M346.12,496.90 L354.76,490.00 M354.76,482.70 L346.12,490.00 M354.76,496.90 L346.12,490.00 M354.76,482.70 L363.40,490.00 M354.76,496.90 L363.40,490.00 M363.40,482.70 L354.76,490.00 M363.40,496.90 L354.76,490.00 M363.40,482.70 L372.04,490.00 M363.40,496.90 L372.04,490.00 M372.04,482.70 L363.40,490.00 M372.04,496.90 L363.40,490.00 M372.04,482.70 L380.68,490.00 M372.04,496.90 L380.68,490.00 M380.68,482.70 L372.04,490.00 M380.68,496.90 L372.04,490.00 M380.68,482.70 L389.32,490.00 M380.68,496.90 L389.32,490.00 M389.32,482.70 L380.68,490.00 M389.32,496.90 L380.68,490.00 M389.32,482.70 L391.82,484.81 M389.32,496.90 L391.82,494.90" stroke="#4c5478" stroke-width="0.95" fill="none"/>
<path d="M277.00,490.00 L277.00,497.90 M285.64,490.00 L285.64,497.90 M294.28,490.00 L294.28,497.90 M302.92,490.00 L302.92,497.90 M311.56,490.00 L311.56,497.90 M320.20,490.00 L320.20,497.90 M328.84,490.00 L328.84,497.90 M337.48,490.00 L337.48,497.90 M346.12,490.00 L346.12,497.90 M354.76,490.00 L354.76,497.90 M363.40,490.00 L363.40,497.90 M372.04,490.00 L372.04,497.90 M380.68,490.00 L380.68,497.90 M389.32,490.00 L389.32,497.90" stroke="#2a2a2a" stroke-width="1.4" fill="none"/>
<ellipse cx="277.00" cy="481.70" rx="2.9" ry="2.4" fill="url(#sy)"/>
<ellipse cx="277.00" cy="497.90" rx="2.9" ry="2.4" fill="url(#sy)"/>
<circle cx="277.00" cy="490.00" r="2.05" fill="url(#wd)"/>
<ellipse cx="285.64" cy="481.70" rx="2.9" ry="2.4" fill="url(#sy)"/>
<ellipse cx="285.64" cy="497.90" rx="2.9" ry="2.4" fill="url(#sy)"/>
<circle cx="285.64" cy="490.00" r="2.05" fill="url(#wd)"/>
<ellipse cx="294.28" cy="481.70" rx="2.9" ry="2.4" fill="url(#sy)"/>
<ellipse cx="294.28" cy="497.90" rx="2.9" ry="2.4" fill="url(#sy)"/>
<circle cx="294.28" cy="490.00" r="2.05" fill="url(#wd)"/>
<ellipse cx="302.92" cy="481.70" rx="2.9" ry="2.4" fill="url(#sy)"/>
<ellipse cx="302.92" cy="497.90" rx="2.9" ry="2.4" fill="url(#sy)"/>
<circle cx="302.92" cy="490.00" r="2.05" fill="url(#wd)"/>
<ellipse cx="311.56" cy="481.70" rx="2.9" ry="2.4" fill="url(#sy)"/>
<ellipse cx="311.56" cy="497.90" rx="2.9" ry="2.4" fill="url(#sy)"/>
<circle cx="311.56" cy="490.00" r="2.05" fill="url(#wd)"/>
<ellipse cx="320.20" cy="481.70" rx="2.9" ry="2.4" fill="url(#sy)"/>
<ellipse cx="320.20" cy="497.90" rx="2.9" ry="2.4" fill="url(#sy)"/>
<circle cx="320.20" cy="490.00" r="2.05" fill="url(#wd)"/>
<ellipse cx="328.84" cy="481.70" rx="2.9" ry="2.4" fill="url(#sy)"/>
<ellipse cx="328.84" cy="497.90" rx="2.9" ry="2.4" fill="url(#sy)"/>
<circle cx="328.84" cy="490.00" r="2.05" fill="url(#wd)"/>
<ellipse cx="337.48" cy="481.70" rx="2.9" ry="2.4" fill="url(#sy)"/>
<ellipse cx="337.48" cy="497.90" rx="2.9" ry="2.4" fill="url(#sy)"/>
<circle cx="337.48" cy="490.00" r="2.05" fill="url(#wd)"/>
<ellipse cx="346.12" cy="481.70" rx="2.9" ry="2.4" fill="url(#sy)"/>
<ellipse cx="346.12" cy="497.90" rx="2.9" ry="2.4" fill="url(#sy)"/>
<circle cx="346.12" cy="490.00" r="2.05" fill="url(#wd)"/>
<ellipse cx="354.76" cy="481.70" rx="2.9" ry="2.4" fill="url(#sy)"/>
<ellipse cx="354.76" cy="497.90" rx="2.9" ry="2.4" fill="url(#sy)"/>
<circle cx="354.76" cy="490.00" r="2.05" fill="url(#wd)"/>
<ellipse cx="363.40" cy="481.70" rx="2.9" ry="2.4" fill="url(#sy)"/>
<ellipse cx="363.40" cy="497.90" rx="2.9" ry="2.4" fill="url(#sy)"/>
<circle cx="363.40" cy="490.00" r="2.05" fill="url(#wd)"/>
<ellipse cx="372.04" cy="481.70" rx="2.9" ry="2.4" fill="url(#sy)"/>
<ellipse cx="372.04" cy="497.90" rx="2.9" ry="2.4" fill="url(#sy)"/>
<circle cx="372.04" cy="490.00" r="2.05" fill="url(#wd)"/>
<ellipse cx="380.68" cy="481.70" rx="2.9" ry="2.4" fill="url(#sy)"/>
<ellipse cx="380.68" cy="497.90" rx="2.9" ry="2.4" fill="url(#sy)"/>
<circle cx="380.68" cy="490.00" r="2.05" fill="url(#wd)"/>
<ellipse cx="389.32" cy="481.70" rx="2.9" ry="2.4" fill="url(#sy)"/>
<ellipse cx="389.32" cy="497.90" rx="2.9" ry="2.4" fill="url(#sy)"/>
<circle cx="389.32" cy="490.00" r="2.05" fill="url(#wd)"/>
<path d="M402.30,482.70 L399.80,484.82 M402.30,496.90 L399.80,494.90 M402.30,482.70 L410.92,490.00 M402.30,496.90 L410.92,490.00 M410.92,482.70 L402.30,490.00 M410.92,496.90 L402.30,490.00 M410.92,482.70 L419.54,490.00 M410.92,496.90 L419.54,490.00 M419.54,482.70 L410.92,490.00 M419.54,496.90 L410.92,490.00 M419.54,482.70 L428.16,490.00 M419.54,496.90 L428.16,490.00 M428.16,482.70 L419.54,490.00 M428.16,496.90 L419.54,490.00 M428.16,482.70 L436.78,490.00 M428.16,496.90 L436.78,490.00 M436.78,482.70 L428.16,490.00 M436.78,496.90 L428.16,490.00 M436.78,482.70 L445.40,490.00 M436.78,496.90 L445.40,490.00 M445.40,482.70 L436.78,490.00 M445.40,496.90 L436.78,490.00 M445.40,482.70 L454.02,490.00 M445.40,496.90 L454.02,490.00 M454.02,482.70 L445.40,490.00 M454.02,496.90 L445.40,490.00 M454.02,482.70 L462.64,490.00 M454.02,496.90 L462.64,490.00 M462.64,482.70 L454.02,490.00 M462.64,496.90 L454.02,490.00 M462.64,482.70 L471.26,490.00 M462.64,496.90 L471.26,490.00 M471.26,482.70 L462.64,490.00 M471.26,496.90 L462.64,490.00 M471.26,482.70 L479.88,490.00 M471.26,496.90 L479.88,490.00 M479.88,482.70 L471.26,490.00 M479.88,496.90 L471.26,490.00 M479.88,482.70 L488.50,490.00 M479.88,496.90 L488.50,490.00 M488.50,482.70 L479.88,490.00 M488.50,496.90 L479.88,490.00 M488.50,482.70 L497.12,490.00 M488.50,496.90 L497.12,490.00 M497.12,482.70 L488.50,490.00 M497.12,496.90 L488.50,490.00 M497.12,482.70 L505.74,490.00 M497.12,496.90 L505.74,490.00 M505.74,482.70 L497.12,490.00 M505.74,496.90 L497.12,490.00 M505.74,482.70 L514.36,490.00 M505.74,496.90 L514.36,490.00 M514.36,482.70 L505.74,490.00 M514.36,496.90 L505.74,490.00 M514.36,482.70 L516.86,484.82 M514.36,496.90 L516.86,494.90" stroke="#4c5478" stroke-width="0.95" fill="none"/>
<path d="M402.30,490.00 L402.30,497.90 M410.92,490.00 L410.92,497.90 M419.54,490.00 L419.54,497.90 M428.16,490.00 L428.16,497.90 M436.78,490.00 L436.78,497.90 M445.40,490.00 L445.40,497.90 M454.02,490.00 L454.02,497.90 M462.64,490.00 L462.64,497.90 M471.26,490.00 L471.26,497.90 M479.88,490.00 L479.88,497.90 M488.50,490.00 L488.50,497.90 M497.12,490.00 L497.12,497.90 M505.74,490.00 L505.74,497.90 M514.36,490.00 L514.36,497.90" stroke="#2a2a2a" stroke-width="1.4" fill="none"/>
<ellipse cx="402.30" cy="481.70" rx="2.9" ry="2.4" fill="url(#sy)"/>
<ellipse cx="402.30" cy="497.90" rx="2.9" ry="2.4" fill="url(#sy)"/>
<circle cx="402.30" cy="490.00" r="2.05" fill="url(#wd)"/>
<ellipse cx="410.92" cy="481.70" rx="2.9" ry="2.4" fill="url(#sy)"/>
<ellipse cx="410.92" cy="497.90" rx="2.9" ry="2.4" fill="url(#sy)"/>
<circle cx="410.92" cy="490.00" r="2.05" fill="url(#wd)"/>
<ellipse cx="419.54" cy="481.70" rx="2.9" ry="2.4" fill="url(#sy)"/>
<ellipse cx="419.54" cy="497.90" rx="2.9" ry="2.4" fill="url(#sy)"/>
<circle cx="419.54" cy="490.00" r="2.05" fill="url(#wd)"/>
<ellipse cx="428.16" cy="481.70" rx="2.9" ry="2.4" fill="url(#sy)"/>
<ellipse cx="428.16" cy="497.90" rx="2.9" ry="2.4" fill="url(#sy)"/>
<circle cx="428.16" cy="490.00" r="2.05" fill="url(#wd)"/>
<ellipse cx="436.78" cy="481.70" rx="2.9" ry="2.4" fill="url(#sy)"/>
<ellipse cx="436.78" cy="497.90" rx="2.9" ry="2.4" fill="url(#sy)"/>
<circle cx="436.78" cy="490.00" r="2.05" fill="url(#wd)"/>
<ellipse cx="445.40" cy="481.70" rx="2.9" ry="2.4" fill="url(#sy)"/>
<ellipse cx="445.40" cy="497.90" rx="2.9" ry="2.4" fill="url(#sy)"/>
<circle cx="445.40" cy="490.00" r="2.05" fill="url(#wd)"/>
<ellipse cx="454.02" cy="481.70" rx="2.9" ry="2.4" fill="url(#sy)"/>
<ellipse cx="454.02" cy="497.90" rx="2.9" ry="2.4" fill="url(#sy)"/>
<circle cx="454.02" cy="490.00" r="2.05" fill="url(#wd)"/>
<ellipse cx="462.64" cy="481.70" rx="2.9" ry="2.4" fill="url(#sy)"/>
<ellipse cx="462.64" cy="497.90" rx="2.9" ry="2.4" fill="url(#sy)"/>
<circle cx="462.64" cy="490.00" r="2.05" fill="url(#wd)"/>
<ellipse cx="471.26" cy="481.70" rx="2.9" ry="2.4" fill="url(#sy)"/>
<ellipse cx="471.26" cy="497.90" rx="2.9" ry="2.4" fill="url(#sy)"/>
<circle cx="471.26" cy="490.00" r="2.05" fill="url(#wd)"/>
<ellipse cx="479.88" cy="481.70" rx="2.9" ry="2.4" fill="url(#sy)"/>
<ellipse cx="479.88" cy="497.90" rx="2.9" ry="2.4" fill="url(#sy)"/>
<circle cx="479.88" cy="490.00" r="2.05" fill="url(#wd)"/>
<ellipse cx="488.50" cy="481.70" rx="2.9" ry="2.4" fill="url(#sy)"/>
<ellipse cx="488.50" cy="497.90" rx="2.9" ry="2.4" fill="url(#sy)"/>
<circle cx="488.50" cy="490.00" r="2.05" fill="url(#wd)"/>
<ellipse cx="497.12" cy="481.70" rx="2.9" ry="2.4" fill="url(#sy)"/>
<ellipse cx="497.12" cy="497.90" rx="2.9" ry="2.4" fill="url(#sy)"/>
<circle cx="497.12" cy="490.00" r="2.05" fill="url(#wd)"/>
<ellipse cx="505.74" cy="481.70" rx="2.9" ry="2.4" fill="url(#sy)"/>
<ellipse cx="505.74" cy="497.90" rx="2.9" ry="2.4" fill="url(#sy)"/>
<circle cx="505.74" cy="490.00" r="2.05" fill="url(#wd)"/>
<ellipse cx="514.36" cy="481.70" rx="2.9" ry="2.4" fill="url(#sy)"/>
<ellipse cx="514.36" cy="497.90" rx="2.9" ry="2.4" fill="url(#sy)"/>
<circle cx="514.36" cy="490.00" r="2.05" fill="url(#wd)"/>
<line x1="87" y1="455.3" x2="314.8" y2="455.3" stroke="#e0202a" stroke-width="1.6"/>
<path d="M257,450.2 L322.2,450.2 L322.2,472.4 L354.6,472.4" stroke="#2aa8d8" stroke-width="1.5" fill="none"/>
<line x1="383.2" y1="476.1" x2="405.2" y2="476.1" stroke="#5a2d7a" stroke-width="1.5"/>
<text x="150.70" y="449.20" font-family="'Liberation Sans', Arial, sans-serif" font-size="16.2" fill="#e0202a" text-anchor="start" font-weight="normal" font-style="normal" textLength="92.30" lengthAdjust="spacingAndGlyphs" stroke="#e0202a" stroke-width="0.45">Basal planes</text>
<text x="270.20" y="445.20" font-family="'Liberation Sans', Arial, sans-serif" font-size="16.2" fill="#2aa8d8" text-anchor="start" font-weight="normal" font-style="normal" textLength="82.80" lengthAdjust="spacingAndGlyphs" stroke="#2aa8d8" stroke-width="0.45">Step edges</text>
<text x="375.20" y="468.90" font-family="'Liberation Sans', Arial, sans-serif" font-size="17.2" fill="#5a2d8a" text-anchor="start" font-weight="normal" font-style="normal" textLength="124.70" lengthAdjust="spacingAndGlyphs" stroke="#5a2d8a" stroke-width="0.45">Grain boundary</text>
</svg>
</body></html>
